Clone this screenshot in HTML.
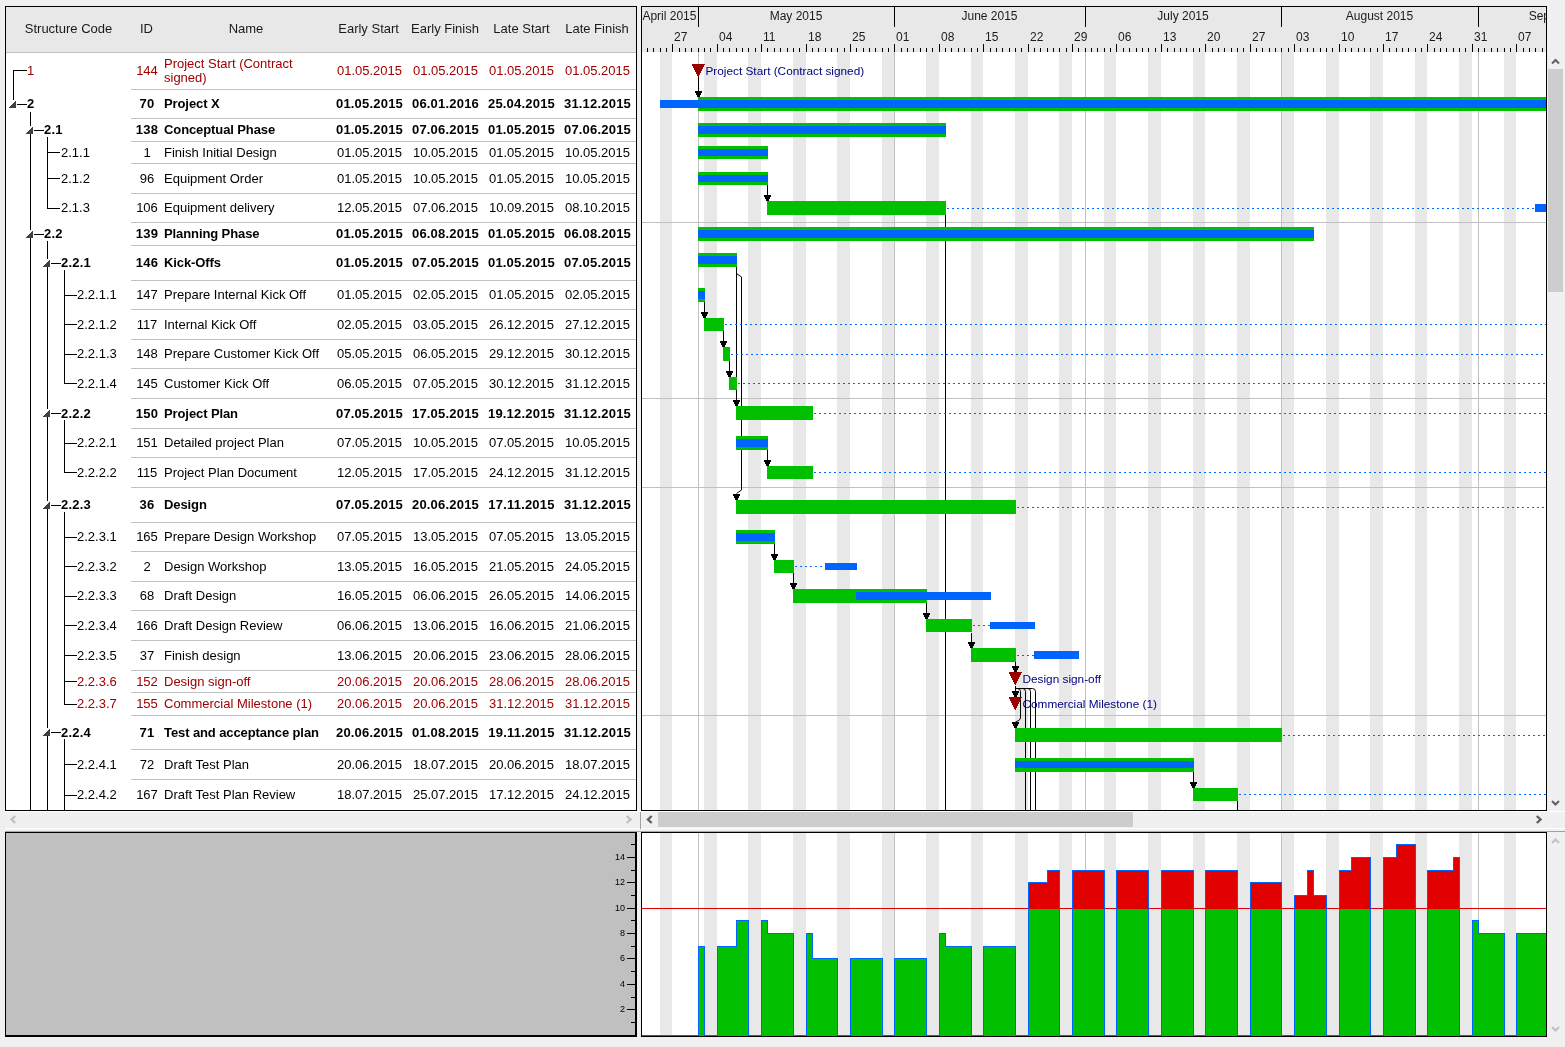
<!DOCTYPE html>
<html><head><meta charset="utf-8"><title>Gantt</title>
<style>
html,body{margin:0;padding:0;width:1565px;height:1047px;overflow:hidden;background:#f0f0f0;}
svg.root{position:absolute;left:0;top:0;display:block;will-change:transform;}
text{font-family:"Liberation Sans",sans-serif;}
</style></head><body>
<svg class="root" width="1565" height="1047" viewBox="0 0 1565 1047" shape-rendering="crispEdges">
<rect x="0" y="0" width="1565" height="1047" fill="#f0f0f0"/>
<rect x="5" y="6" width="632" height="805" fill="#000"/>
<rect x="6" y="7" width="630" height="803" fill="#fff"/>
<rect x="6" y="7" width="630" height="45" fill="#e8e8e8"/>
<rect x="6" y="52" width="630" height="1" fill="#c0c0c0"/>
<text x="68.5" y="33" font-size="13" fill="#1a1a1a" text-anchor="middle">Structure Code</text>
<text x="146.5" y="33" font-size="13" fill="#1a1a1a" text-anchor="middle">ID</text>
<text x="246" y="33" font-size="13" fill="#1a1a1a" text-anchor="middle">Name</text>
<text x="368.6" y="33" font-size="13" fill="#1a1a1a" text-anchor="middle">Early Start</text>
<text x="445" y="33" font-size="13" fill="#1a1a1a" text-anchor="middle">Early Finish</text>
<text x="521.5" y="33" font-size="13" fill="#1a1a1a" text-anchor="middle">Late Start</text>
<text x="597" y="33" font-size="13" fill="#1a1a1a" text-anchor="middle">Late Finish</text>
<rect x="131" y="89" width="505" height="1" fill="#c0c0c0"/>
<rect x="131" y="118" width="505" height="1" fill="#c0c0c0"/>
<rect x="131" y="141" width="505" height="1" fill="#c0c0c0"/>
<rect x="131" y="163" width="505" height="1" fill="#c0c0c0"/>
<rect x="131" y="193" width="505" height="1" fill="#c0c0c0"/>
<rect x="131" y="222" width="505" height="1" fill="#c0c0c0"/>
<rect x="131" y="245" width="505" height="1" fill="#c0c0c0"/>
<rect x="131" y="280" width="505" height="1" fill="#c0c0c0"/>
<rect x="131" y="309" width="505" height="1" fill="#c0c0c0"/>
<rect x="131" y="339" width="505" height="1" fill="#c0c0c0"/>
<rect x="131" y="368" width="505" height="1" fill="#c0c0c0"/>
<rect x="131" y="398" width="505" height="1" fill="#c0c0c0"/>
<rect x="131" y="428" width="505" height="1" fill="#c0c0c0"/>
<rect x="131" y="457" width="505" height="1" fill="#c0c0c0"/>
<rect x="131" y="487" width="505" height="1" fill="#c0c0c0"/>
<rect x="131" y="522" width="505" height="1" fill="#c0c0c0"/>
<rect x="131" y="551" width="505" height="1" fill="#c0c0c0"/>
<rect x="131" y="581" width="505" height="1" fill="#c0c0c0"/>
<rect x="131" y="610" width="505" height="1" fill="#c0c0c0"/>
<rect x="131" y="640" width="505" height="1" fill="#c0c0c0"/>
<rect x="131" y="670" width="505" height="1" fill="#c0c0c0"/>
<rect x="131" y="692" width="505" height="1" fill="#c0c0c0"/>
<rect x="131" y="715" width="505" height="1" fill="#c0c0c0"/>
<rect x="131" y="749" width="505" height="1" fill="#c0c0c0"/>
<rect x="131" y="779" width="505" height="1" fill="#c0c0c0"/>
<text x="27" y="75" font-size="13" fill="#a00000">1</text>
<text x="147" y="75" font-size="13" fill="#a00000" text-anchor="middle">144</text>
<text x="164" y="68" font-size="13" fill="#a00000">Project Start (Contract</text>
<text x="164" y="82" font-size="13" fill="#a00000">signed)</text>
<text x="369.5" y="75" font-size="13" fill="#a00000" text-anchor="middle">01.05.2015</text>
<text x="445.5" y="75" font-size="13" fill="#a00000" text-anchor="middle">01.05.2015</text>
<text x="521.5" y="75" font-size="13" fill="#a00000" text-anchor="middle">01.05.2015</text>
<text x="597.5" y="75" font-size="13" fill="#a00000" text-anchor="middle">01.05.2015</text>
<text x="27" y="108" font-size="13" fill="#000" font-weight="bold" letter-spacing="0.2">2</text>
<text x="147" y="108" font-size="13" fill="#000" font-weight="bold" letter-spacing="0.2" text-anchor="middle">70</text>
<text x="164" y="108" font-size="13" fill="#000" font-weight="bold" letter-spacing="-0.1">Project X</text>
<text x="369.5" y="108" font-size="13" fill="#000" font-weight="bold" letter-spacing="0.2" text-anchor="middle">01.05.2015</text>
<text x="445.5" y="108" font-size="13" fill="#000" font-weight="bold" letter-spacing="0.2" text-anchor="middle">06.01.2016</text>
<text x="521.5" y="108" font-size="13" fill="#000" font-weight="bold" letter-spacing="0.2" text-anchor="middle">25.04.2015</text>
<text x="597.5" y="108" font-size="13" fill="#000" font-weight="bold" letter-spacing="0.2" text-anchor="middle">31.12.2015</text>
<text x="44" y="134" font-size="13" fill="#000" font-weight="bold" letter-spacing="0.2">2.1</text>
<text x="147" y="134" font-size="13" fill="#000" font-weight="bold" letter-spacing="0.2" text-anchor="middle">138</text>
<text x="164" y="134" font-size="13" fill="#000" font-weight="bold" letter-spacing="-0.1">Conceptual Phase</text>
<text x="369.5" y="134" font-size="13" fill="#000" font-weight="bold" letter-spacing="0.2" text-anchor="middle">01.05.2015</text>
<text x="445.5" y="134" font-size="13" fill="#000" font-weight="bold" letter-spacing="0.2" text-anchor="middle">07.06.2015</text>
<text x="521.5" y="134" font-size="13" fill="#000" font-weight="bold" letter-spacing="0.2" text-anchor="middle">01.05.2015</text>
<text x="597.5" y="134" font-size="13" fill="#000" font-weight="bold" letter-spacing="0.2" text-anchor="middle">07.06.2015</text>
<text x="61" y="157" font-size="13" fill="#000">2.1.1</text>
<text x="147" y="157" font-size="13" fill="#000" text-anchor="middle">1</text>
<text x="164" y="157" font-size="13" fill="#000">Finish Initial Design</text>
<text x="369.5" y="157" font-size="13" fill="#000" text-anchor="middle">01.05.2015</text>
<text x="445.5" y="157" font-size="13" fill="#000" text-anchor="middle">10.05.2015</text>
<text x="521.5" y="157" font-size="13" fill="#000" text-anchor="middle">01.05.2015</text>
<text x="597.5" y="157" font-size="13" fill="#000" text-anchor="middle">10.05.2015</text>
<text x="61" y="183" font-size="13" fill="#000">2.1.2</text>
<text x="147" y="183" font-size="13" fill="#000" text-anchor="middle">96</text>
<text x="164" y="183" font-size="13" fill="#000">Equipment Order</text>
<text x="369.5" y="183" font-size="13" fill="#000" text-anchor="middle">01.05.2015</text>
<text x="445.5" y="183" font-size="13" fill="#000" text-anchor="middle">10.05.2015</text>
<text x="521.5" y="183" font-size="13" fill="#000" text-anchor="middle">01.05.2015</text>
<text x="597.5" y="183" font-size="13" fill="#000" text-anchor="middle">10.05.2015</text>
<text x="61" y="212" font-size="13" fill="#000">2.1.3</text>
<text x="147" y="212" font-size="13" fill="#000" text-anchor="middle">106</text>
<text x="164" y="212" font-size="13" fill="#000">Equipment delivery</text>
<text x="369.5" y="212" font-size="13" fill="#000" text-anchor="middle">12.05.2015</text>
<text x="445.5" y="212" font-size="13" fill="#000" text-anchor="middle">07.06.2015</text>
<text x="521.5" y="212" font-size="13" fill="#000" text-anchor="middle">10.09.2015</text>
<text x="597.5" y="212" font-size="13" fill="#000" text-anchor="middle">08.10.2015</text>
<text x="44" y="238" font-size="13" fill="#000" font-weight="bold" letter-spacing="0.2">2.2</text>
<text x="147" y="238" font-size="13" fill="#000" font-weight="bold" letter-spacing="0.2" text-anchor="middle">139</text>
<text x="164" y="238" font-size="13" fill="#000" font-weight="bold" letter-spacing="-0.1">Planning Phase</text>
<text x="369.5" y="238" font-size="13" fill="#000" font-weight="bold" letter-spacing="0.2" text-anchor="middle">01.05.2015</text>
<text x="445.5" y="238" font-size="13" fill="#000" font-weight="bold" letter-spacing="0.2" text-anchor="middle">06.08.2015</text>
<text x="521.5" y="238" font-size="13" fill="#000" font-weight="bold" letter-spacing="0.2" text-anchor="middle">01.05.2015</text>
<text x="597.5" y="238" font-size="13" fill="#000" font-weight="bold" letter-spacing="0.2" text-anchor="middle">06.08.2015</text>
<text x="61" y="267" font-size="13" fill="#000" font-weight="bold" letter-spacing="0.2">2.2.1</text>
<text x="147" y="267" font-size="13" fill="#000" font-weight="bold" letter-spacing="0.2" text-anchor="middle">146</text>
<text x="164" y="267" font-size="13" fill="#000" font-weight="bold" letter-spacing="-0.1">Kick-Offs</text>
<text x="369.5" y="267" font-size="13" fill="#000" font-weight="bold" letter-spacing="0.2" text-anchor="middle">01.05.2015</text>
<text x="445.5" y="267" font-size="13" fill="#000" font-weight="bold" letter-spacing="0.2" text-anchor="middle">07.05.2015</text>
<text x="521.5" y="267" font-size="13" fill="#000" font-weight="bold" letter-spacing="0.2" text-anchor="middle">01.05.2015</text>
<text x="597.5" y="267" font-size="13" fill="#000" font-weight="bold" letter-spacing="0.2" text-anchor="middle">07.05.2015</text>
<text x="77" y="299" font-size="13" fill="#000">2.2.1.1</text>
<text x="147" y="299" font-size="13" fill="#000" text-anchor="middle">147</text>
<text x="164" y="299" font-size="13" fill="#000">Prepare Internal Kick Off</text>
<text x="369.5" y="299" font-size="13" fill="#000" text-anchor="middle">01.05.2015</text>
<text x="445.5" y="299" font-size="13" fill="#000" text-anchor="middle">02.05.2015</text>
<text x="521.5" y="299" font-size="13" fill="#000" text-anchor="middle">01.05.2015</text>
<text x="597.5" y="299" font-size="13" fill="#000" text-anchor="middle">02.05.2015</text>
<text x="77" y="329" font-size="13" fill="#000">2.2.1.2</text>
<text x="147" y="329" font-size="13" fill="#000" text-anchor="middle">117</text>
<text x="164" y="329" font-size="13" fill="#000">Internal Kick Off</text>
<text x="369.5" y="329" font-size="13" fill="#000" text-anchor="middle">02.05.2015</text>
<text x="445.5" y="329" font-size="13" fill="#000" text-anchor="middle">03.05.2015</text>
<text x="521.5" y="329" font-size="13" fill="#000" text-anchor="middle">26.12.2015</text>
<text x="597.5" y="329" font-size="13" fill="#000" text-anchor="middle">27.12.2015</text>
<text x="77" y="358" font-size="13" fill="#000">2.2.1.3</text>
<text x="147" y="358" font-size="13" fill="#000" text-anchor="middle">148</text>
<text x="164" y="358" font-size="13" fill="#000">Prepare Customer Kick Off</text>
<text x="369.5" y="358" font-size="13" fill="#000" text-anchor="middle">05.05.2015</text>
<text x="445.5" y="358" font-size="13" fill="#000" text-anchor="middle">06.05.2015</text>
<text x="521.5" y="358" font-size="13" fill="#000" text-anchor="middle">29.12.2015</text>
<text x="597.5" y="358" font-size="13" fill="#000" text-anchor="middle">30.12.2015</text>
<text x="77" y="388" font-size="13" fill="#000">2.2.1.4</text>
<text x="147" y="388" font-size="13" fill="#000" text-anchor="middle">145</text>
<text x="164" y="388" font-size="13" fill="#000">Customer Kick Off</text>
<text x="369.5" y="388" font-size="13" fill="#000" text-anchor="middle">06.05.2015</text>
<text x="445.5" y="388" font-size="13" fill="#000" text-anchor="middle">07.05.2015</text>
<text x="521.5" y="388" font-size="13" fill="#000" text-anchor="middle">30.12.2015</text>
<text x="597.5" y="388" font-size="13" fill="#000" text-anchor="middle">31.12.2015</text>
<text x="61" y="418" font-size="13" fill="#000" font-weight="bold" letter-spacing="0.2">2.2.2</text>
<text x="147" y="418" font-size="13" fill="#000" font-weight="bold" letter-spacing="0.2" text-anchor="middle">150</text>
<text x="164" y="418" font-size="13" fill="#000" font-weight="bold" letter-spacing="-0.1">Project Plan</text>
<text x="369.5" y="418" font-size="13" fill="#000" font-weight="bold" letter-spacing="0.2" text-anchor="middle">07.05.2015</text>
<text x="445.5" y="418" font-size="13" fill="#000" font-weight="bold" letter-spacing="0.2" text-anchor="middle">17.05.2015</text>
<text x="521.5" y="418" font-size="13" fill="#000" font-weight="bold" letter-spacing="0.2" text-anchor="middle">19.12.2015</text>
<text x="597.5" y="418" font-size="13" fill="#000" font-weight="bold" letter-spacing="0.2" text-anchor="middle">31.12.2015</text>
<text x="77" y="447" font-size="13" fill="#000">2.2.2.1</text>
<text x="147" y="447" font-size="13" fill="#000" text-anchor="middle">151</text>
<text x="164" y="447" font-size="13" fill="#000">Detailed project Plan</text>
<text x="369.5" y="447" font-size="13" fill="#000" text-anchor="middle">07.05.2015</text>
<text x="445.5" y="447" font-size="13" fill="#000" text-anchor="middle">10.05.2015</text>
<text x="521.5" y="447" font-size="13" fill="#000" text-anchor="middle">07.05.2015</text>
<text x="597.5" y="447" font-size="13" fill="#000" text-anchor="middle">10.05.2015</text>
<text x="77" y="477" font-size="13" fill="#000">2.2.2.2</text>
<text x="147" y="477" font-size="13" fill="#000" text-anchor="middle">115</text>
<text x="164" y="477" font-size="13" fill="#000">Project Plan Document</text>
<text x="369.5" y="477" font-size="13" fill="#000" text-anchor="middle">12.05.2015</text>
<text x="445.5" y="477" font-size="13" fill="#000" text-anchor="middle">17.05.2015</text>
<text x="521.5" y="477" font-size="13" fill="#000" text-anchor="middle">24.12.2015</text>
<text x="597.5" y="477" font-size="13" fill="#000" text-anchor="middle">31.12.2015</text>
<text x="61" y="509" font-size="13" fill="#000" font-weight="bold" letter-spacing="0.2">2.2.3</text>
<text x="147" y="509" font-size="13" fill="#000" font-weight="bold" letter-spacing="0.2" text-anchor="middle">36</text>
<text x="164" y="509" font-size="13" fill="#000" font-weight="bold" letter-spacing="-0.1">Design</text>
<text x="369.5" y="509" font-size="13" fill="#000" font-weight="bold" letter-spacing="0.2" text-anchor="middle">07.05.2015</text>
<text x="445.5" y="509" font-size="13" fill="#000" font-weight="bold" letter-spacing="0.2" text-anchor="middle">20.06.2015</text>
<text x="521.5" y="509" font-size="13" fill="#000" font-weight="bold" letter-spacing="0.2" text-anchor="middle">17.11.2015</text>
<text x="597.5" y="509" font-size="13" fill="#000" font-weight="bold" letter-spacing="0.2" text-anchor="middle">31.12.2015</text>
<text x="77" y="541" font-size="13" fill="#000">2.2.3.1</text>
<text x="147" y="541" font-size="13" fill="#000" text-anchor="middle">165</text>
<text x="164" y="541" font-size="13" fill="#000">Prepare Design Workshop</text>
<text x="369.5" y="541" font-size="13" fill="#000" text-anchor="middle">07.05.2015</text>
<text x="445.5" y="541" font-size="13" fill="#000" text-anchor="middle">13.05.2015</text>
<text x="521.5" y="541" font-size="13" fill="#000" text-anchor="middle">07.05.2015</text>
<text x="597.5" y="541" font-size="13" fill="#000" text-anchor="middle">13.05.2015</text>
<text x="77" y="571" font-size="13" fill="#000">2.2.3.2</text>
<text x="147" y="571" font-size="13" fill="#000" text-anchor="middle">2</text>
<text x="164" y="571" font-size="13" fill="#000">Design Workshop</text>
<text x="369.5" y="571" font-size="13" fill="#000" text-anchor="middle">13.05.2015</text>
<text x="445.5" y="571" font-size="13" fill="#000" text-anchor="middle">16.05.2015</text>
<text x="521.5" y="571" font-size="13" fill="#000" text-anchor="middle">21.05.2015</text>
<text x="597.5" y="571" font-size="13" fill="#000" text-anchor="middle">24.05.2015</text>
<text x="77" y="600" font-size="13" fill="#000">2.2.3.3</text>
<text x="147" y="600" font-size="13" fill="#000" text-anchor="middle">68</text>
<text x="164" y="600" font-size="13" fill="#000">Draft Design</text>
<text x="369.5" y="600" font-size="13" fill="#000" text-anchor="middle">16.05.2015</text>
<text x="445.5" y="600" font-size="13" fill="#000" text-anchor="middle">06.06.2015</text>
<text x="521.5" y="600" font-size="13" fill="#000" text-anchor="middle">26.05.2015</text>
<text x="597.5" y="600" font-size="13" fill="#000" text-anchor="middle">14.06.2015</text>
<text x="77" y="630" font-size="13" fill="#000">2.2.3.4</text>
<text x="147" y="630" font-size="13" fill="#000" text-anchor="middle">166</text>
<text x="164" y="630" font-size="13" fill="#000">Draft Design Review</text>
<text x="369.5" y="630" font-size="13" fill="#000" text-anchor="middle">06.06.2015</text>
<text x="445.5" y="630" font-size="13" fill="#000" text-anchor="middle">13.06.2015</text>
<text x="521.5" y="630" font-size="13" fill="#000" text-anchor="middle">16.06.2015</text>
<text x="597.5" y="630" font-size="13" fill="#000" text-anchor="middle">21.06.2015</text>
<text x="77" y="660" font-size="13" fill="#000">2.2.3.5</text>
<text x="147" y="660" font-size="13" fill="#000" text-anchor="middle">37</text>
<text x="164" y="660" font-size="13" fill="#000">Finish design</text>
<text x="369.5" y="660" font-size="13" fill="#000" text-anchor="middle">13.06.2015</text>
<text x="445.5" y="660" font-size="13" fill="#000" text-anchor="middle">20.06.2015</text>
<text x="521.5" y="660" font-size="13" fill="#000" text-anchor="middle">23.06.2015</text>
<text x="597.5" y="660" font-size="13" fill="#000" text-anchor="middle">28.06.2015</text>
<text x="77" y="686" font-size="13" fill="#a00000">2.2.3.6</text>
<text x="147" y="686" font-size="13" fill="#a00000" text-anchor="middle">152</text>
<text x="164" y="686" font-size="13" fill="#a00000">Design sign-off</text>
<text x="369.5" y="686" font-size="13" fill="#a00000" text-anchor="middle">20.06.2015</text>
<text x="445.5" y="686" font-size="13" fill="#a00000" text-anchor="middle">20.06.2015</text>
<text x="521.5" y="686" font-size="13" fill="#a00000" text-anchor="middle">28.06.2015</text>
<text x="597.5" y="686" font-size="13" fill="#a00000" text-anchor="middle">28.06.2015</text>
<text x="77" y="708" font-size="13" fill="#a00000">2.2.3.7</text>
<text x="147" y="708" font-size="13" fill="#a00000" text-anchor="middle">155</text>
<text x="164" y="708" font-size="13" fill="#a00000">Commercial Milestone (1)</text>
<text x="369.5" y="708" font-size="13" fill="#a00000" text-anchor="middle">20.06.2015</text>
<text x="445.5" y="708" font-size="13" fill="#a00000" text-anchor="middle">20.06.2015</text>
<text x="521.5" y="708" font-size="13" fill="#a00000" text-anchor="middle">31.12.2015</text>
<text x="597.5" y="708" font-size="13" fill="#a00000" text-anchor="middle">31.12.2015</text>
<text x="61" y="737" font-size="13" fill="#000" font-weight="bold" letter-spacing="0.2">2.2.4</text>
<text x="147" y="737" font-size="13" fill="#000" font-weight="bold" letter-spacing="0.2" text-anchor="middle">71</text>
<text x="164" y="737" font-size="13" fill="#000" font-weight="bold" letter-spacing="-0.1">Test and acceptance plan</text>
<text x="369.5" y="737" font-size="13" fill="#000" font-weight="bold" letter-spacing="0.2" text-anchor="middle">20.06.2015</text>
<text x="445.5" y="737" font-size="13" fill="#000" font-weight="bold" letter-spacing="0.2" text-anchor="middle">01.08.2015</text>
<text x="521.5" y="737" font-size="13" fill="#000" font-weight="bold" letter-spacing="0.2" text-anchor="middle">19.11.2015</text>
<text x="597.5" y="737" font-size="13" fill="#000" font-weight="bold" letter-spacing="0.2" text-anchor="middle">31.12.2015</text>
<text x="77" y="769" font-size="13" fill="#000">2.2.4.1</text>
<text x="147" y="769" font-size="13" fill="#000" text-anchor="middle">72</text>
<text x="164" y="769" font-size="13" fill="#000">Draft Test Plan</text>
<text x="369.5" y="769" font-size="13" fill="#000" text-anchor="middle">20.06.2015</text>
<text x="445.5" y="769" font-size="13" fill="#000" text-anchor="middle">18.07.2015</text>
<text x="521.5" y="769" font-size="13" fill="#000" text-anchor="middle">20.06.2015</text>
<text x="597.5" y="769" font-size="13" fill="#000" text-anchor="middle">18.07.2015</text>
<text x="77" y="799" font-size="13" fill="#000">2.2.4.2</text>
<text x="147" y="799" font-size="13" fill="#000" text-anchor="middle">167</text>
<text x="164" y="799" font-size="13" fill="#000">Draft Test Plan Review</text>
<text x="369.5" y="799" font-size="13" fill="#000" text-anchor="middle">18.07.2015</text>
<text x="445.5" y="799" font-size="13" fill="#000" text-anchor="middle">25.07.2015</text>
<text x="521.5" y="799" font-size="13" fill="#000" text-anchor="middle">17.12.2015</text>
<text x="597.5" y="799" font-size="13" fill="#000" text-anchor="middle">24.12.2015</text>
<rect x="13" y="70" width="1" height="31" fill="#000"/>
<rect x="13" y="70" width="14" height="1" fill="#000"/>
<rect x="13" y="100" width="1" height="8" fill="#fff"/>
<polygon points="8.5,108 16,100.5 16,108" fill="#404040"/>
<rect x="17" y="104" width="10" height="1" fill="#000"/>
<rect x="30" y="112" width="1" height="698" fill="#000"/>
<rect x="30" y="126" width="1" height="8" fill="#fff"/>
<polygon points="25.5,134 33,126.5 33,134" fill="#404040"/>
<rect x="34" y="130" width="10" height="1" fill="#000"/>
<rect x="30" y="230" width="1" height="8" fill="#fff"/>
<polygon points="25.5,238 33,230.5 33,238" fill="#404040"/>
<rect x="34" y="234" width="10" height="1" fill="#000"/>
<rect x="47" y="137" width="1" height="72" fill="#000"/>
<rect x="47" y="152" width="13" height="1" fill="#000"/>
<rect x="47" y="178" width="13" height="1" fill="#000"/>
<rect x="47" y="208" width="13" height="1" fill="#000"/>
<rect x="47" y="241" width="1" height="569" fill="#000"/>
<rect x="47" y="259" width="1" height="8" fill="#fff"/>
<polygon points="42.5,267 50,259.5 50,267" fill="#404040"/>
<rect x="51" y="263" width="10" height="1" fill="#000"/>
<rect x="47" y="409" width="1" height="8" fill="#fff"/>
<polygon points="42.5,417 50,409.5 50,417" fill="#404040"/>
<rect x="51" y="413" width="10" height="1" fill="#000"/>
<rect x="47" y="501" width="1" height="8" fill="#fff"/>
<polygon points="42.5,509 50,501.5 50,509" fill="#404040"/>
<rect x="51" y="505" width="10" height="1" fill="#000"/>
<rect x="47" y="728" width="1" height="8" fill="#fff"/>
<polygon points="42.5,736 50,728.5 50,736" fill="#404040"/>
<rect x="51" y="732" width="10" height="1" fill="#000"/>
<rect x="64" y="270" width="1" height="114" fill="#000"/>
<rect x="64" y="295" width="13" height="1" fill="#000"/>
<rect x="64" y="324" width="13" height="1" fill="#000"/>
<rect x="64" y="354" width="13" height="1" fill="#000"/>
<rect x="64" y="383" width="13" height="1" fill="#000"/>
<rect x="64" y="420" width="1" height="53" fill="#000"/>
<rect x="64" y="443" width="13" height="1" fill="#000"/>
<rect x="64" y="472" width="13" height="1" fill="#000"/>
<rect x="64" y="512" width="1" height="193" fill="#000"/>
<rect x="64" y="537" width="13" height="1" fill="#000"/>
<rect x="64" y="566" width="13" height="1" fill="#000"/>
<rect x="64" y="596" width="13" height="1" fill="#000"/>
<rect x="64" y="625" width="13" height="1" fill="#000"/>
<rect x="64" y="655" width="13" height="1" fill="#000"/>
<rect x="64" y="681" width="13" height="1" fill="#000"/>
<rect x="64" y="704" width="13" height="1" fill="#000"/>
<rect x="64" y="739" width="1" height="71" fill="#000"/>
<rect x="64" y="764" width="13" height="1" fill="#000"/>
<rect x="64" y="795" width="13" height="1" fill="#000"/>
<rect x="641" y="6" width="906" height="805" fill="#000"/>
<rect x="642" y="7" width="904" height="803" fill="#fff"/>
<rect x="642" y="7" width="904" height="45" fill="#e8e8e8"/>
<svg x="642" y="7" width="904" height="803" overflow="hidden">
<g transform="translate(-642,-7)">
<rect x="615" y="52" width="13" height="758" fill="#e8e8e8"/>
<rect x="660" y="52" width="12" height="758" fill="#e8e8e8"/>
<rect x="704" y="52" width="13" height="758" fill="#e8e8e8"/>
<rect x="748" y="52" width="13" height="758" fill="#e8e8e8"/>
<rect x="793" y="52" width="13" height="758" fill="#e8e8e8"/>
<rect x="837" y="52" width="13" height="758" fill="#e8e8e8"/>
<rect x="882" y="52" width="12" height="758" fill="#e8e8e8"/>
<rect x="926" y="52" width="13" height="758" fill="#e8e8e8"/>
<rect x="971" y="52" width="12" height="758" fill="#e8e8e8"/>
<rect x="1015" y="52" width="13" height="758" fill="#e8e8e8"/>
<rect x="1059" y="52" width="13" height="758" fill="#e8e8e8"/>
<rect x="1104" y="52" width="12" height="758" fill="#e8e8e8"/>
<rect x="1148" y="52" width="13" height="758" fill="#e8e8e8"/>
<rect x="1193" y="52" width="12" height="758" fill="#e8e8e8"/>
<rect x="1237" y="52" width="13" height="758" fill="#e8e8e8"/>
<rect x="1281" y="52" width="13" height="758" fill="#e8e8e8"/>
<rect x="1326" y="52" width="13" height="758" fill="#e8e8e8"/>
<rect x="1370" y="52" width="13" height="758" fill="#e8e8e8"/>
<rect x="1415" y="52" width="12" height="758" fill="#e8e8e8"/>
<rect x="1459" y="52" width="13" height="758" fill="#e8e8e8"/>
<rect x="1504" y="52" width="12" height="758" fill="#e8e8e8"/>
<rect x="1548" y="52" width="13" height="758" fill="#e8e8e8"/>
<rect x="698" y="52" width="1" height="758" fill="#c0c0c0"/>
<rect x="698" y="7" width="1" height="20" fill="#000"/>
<rect x="894" y="52" width="1" height="758" fill="#c0c0c0"/>
<rect x="894" y="7" width="1" height="20" fill="#000"/>
<rect x="1085" y="52" width="1" height="758" fill="#c0c0c0"/>
<rect x="1085" y="7" width="1" height="20" fill="#000"/>
<rect x="1281" y="52" width="1" height="758" fill="#c0c0c0"/>
<rect x="1281" y="7" width="1" height="20" fill="#000"/>
<rect x="1478" y="52" width="1" height="758" fill="#c0c0c0"/>
<rect x="1478" y="7" width="1" height="20" fill="#000"/>
<text x="642.4" y="20" font-size="12" fill="#1a1a1a">April 2015</text>
<text x="796.0" y="20" font-size="12" fill="#1a1a1a" text-anchor="middle">May 2015</text>
<text x="989.5" y="20" font-size="12" fill="#1a1a1a" text-anchor="middle">June 2015</text>
<text x="1183.0" y="20" font-size="12" fill="#1a1a1a" text-anchor="middle">July 2015</text>
<text x="1379.5" y="20" font-size="12" fill="#1a1a1a" text-anchor="middle">August 2015</text>
<text x="1573.0" y="20" font-size="12" fill="#1a1a1a" text-anchor="middle">September 2015</text>
<rect x="641" y="48" width="1" height="4" fill="#000"/>
<rect x="647" y="48" width="1" height="4" fill="#000"/>
<rect x="653" y="48" width="1" height="4" fill="#000"/>
<rect x="660" y="48" width="1" height="4" fill="#000"/>
<rect x="666" y="48" width="1" height="4" fill="#000"/>
<rect x="672" y="44" width="1" height="8" fill="#000"/>
<rect x="679" y="48" width="1" height="4" fill="#000"/>
<rect x="685" y="48" width="1" height="4" fill="#000"/>
<rect x="691" y="48" width="1" height="4" fill="#000"/>
<rect x="698" y="48" width="1" height="4" fill="#000"/>
<rect x="704" y="48" width="1" height="4" fill="#000"/>
<rect x="710" y="48" width="1" height="4" fill="#000"/>
<rect x="717" y="44" width="1" height="8" fill="#000"/>
<rect x="723" y="48" width="1" height="4" fill="#000"/>
<rect x="729" y="48" width="1" height="4" fill="#000"/>
<rect x="736" y="48" width="1" height="4" fill="#000"/>
<rect x="742" y="48" width="1" height="4" fill="#000"/>
<rect x="748" y="48" width="1" height="4" fill="#000"/>
<rect x="755" y="48" width="1" height="4" fill="#000"/>
<rect x="761" y="44" width="1" height="8" fill="#000"/>
<rect x="767" y="48" width="1" height="4" fill="#000"/>
<rect x="774" y="48" width="1" height="4" fill="#000"/>
<rect x="780" y="48" width="1" height="4" fill="#000"/>
<rect x="787" y="48" width="1" height="4" fill="#000"/>
<rect x="793" y="48" width="1" height="4" fill="#000"/>
<rect x="799" y="48" width="1" height="4" fill="#000"/>
<rect x="806" y="44" width="1" height="8" fill="#000"/>
<rect x="812" y="48" width="1" height="4" fill="#000"/>
<rect x="818" y="48" width="1" height="4" fill="#000"/>
<rect x="825" y="48" width="1" height="4" fill="#000"/>
<rect x="831" y="48" width="1" height="4" fill="#000"/>
<rect x="837" y="48" width="1" height="4" fill="#000"/>
<rect x="844" y="48" width="1" height="4" fill="#000"/>
<rect x="850" y="44" width="1" height="8" fill="#000"/>
<rect x="856" y="48" width="1" height="4" fill="#000"/>
<rect x="863" y="48" width="1" height="4" fill="#000"/>
<rect x="869" y="48" width="1" height="4" fill="#000"/>
<rect x="875" y="48" width="1" height="4" fill="#000"/>
<rect x="882" y="48" width="1" height="4" fill="#000"/>
<rect x="888" y="48" width="1" height="4" fill="#000"/>
<rect x="894" y="44" width="1" height="8" fill="#000"/>
<rect x="901" y="48" width="1" height="4" fill="#000"/>
<rect x="907" y="48" width="1" height="4" fill="#000"/>
<rect x="913" y="48" width="1" height="4" fill="#000"/>
<rect x="920" y="48" width="1" height="4" fill="#000"/>
<rect x="926" y="48" width="1" height="4" fill="#000"/>
<rect x="932" y="48" width="1" height="4" fill="#000"/>
<rect x="939" y="44" width="1" height="8" fill="#000"/>
<rect x="945" y="48" width="1" height="4" fill="#000"/>
<rect x="951" y="48" width="1" height="4" fill="#000"/>
<rect x="958" y="48" width="1" height="4" fill="#000"/>
<rect x="964" y="48" width="1" height="4" fill="#000"/>
<rect x="971" y="48" width="1" height="4" fill="#000"/>
<rect x="977" y="48" width="1" height="4" fill="#000"/>
<rect x="983" y="44" width="1" height="8" fill="#000"/>
<rect x="990" y="48" width="1" height="4" fill="#000"/>
<rect x="996" y="48" width="1" height="4" fill="#000"/>
<rect x="1002" y="48" width="1" height="4" fill="#000"/>
<rect x="1009" y="48" width="1" height="4" fill="#000"/>
<rect x="1015" y="48" width="1" height="4" fill="#000"/>
<rect x="1021" y="48" width="1" height="4" fill="#000"/>
<rect x="1028" y="44" width="1" height="8" fill="#000"/>
<rect x="1034" y="48" width="1" height="4" fill="#000"/>
<rect x="1040" y="48" width="1" height="4" fill="#000"/>
<rect x="1047" y="48" width="1" height="4" fill="#000"/>
<rect x="1053" y="48" width="1" height="4" fill="#000"/>
<rect x="1059" y="48" width="1" height="4" fill="#000"/>
<rect x="1066" y="48" width="1" height="4" fill="#000"/>
<rect x="1072" y="44" width="1" height="8" fill="#000"/>
<rect x="1078" y="48" width="1" height="4" fill="#000"/>
<rect x="1085" y="48" width="1" height="4" fill="#000"/>
<rect x="1091" y="48" width="1" height="4" fill="#000"/>
<rect x="1097" y="48" width="1" height="4" fill="#000"/>
<rect x="1104" y="48" width="1" height="4" fill="#000"/>
<rect x="1110" y="48" width="1" height="4" fill="#000"/>
<rect x="1116" y="44" width="1" height="8" fill="#000"/>
<rect x="1123" y="48" width="1" height="4" fill="#000"/>
<rect x="1129" y="48" width="1" height="4" fill="#000"/>
<rect x="1136" y="48" width="1" height="4" fill="#000"/>
<rect x="1142" y="48" width="1" height="4" fill="#000"/>
<rect x="1148" y="48" width="1" height="4" fill="#000"/>
<rect x="1155" y="48" width="1" height="4" fill="#000"/>
<rect x="1161" y="44" width="1" height="8" fill="#000"/>
<rect x="1167" y="48" width="1" height="4" fill="#000"/>
<rect x="1174" y="48" width="1" height="4" fill="#000"/>
<rect x="1180" y="48" width="1" height="4" fill="#000"/>
<rect x="1186" y="48" width="1" height="4" fill="#000"/>
<rect x="1193" y="48" width="1" height="4" fill="#000"/>
<rect x="1199" y="48" width="1" height="4" fill="#000"/>
<rect x="1205" y="44" width="1" height="8" fill="#000"/>
<rect x="1212" y="48" width="1" height="4" fill="#000"/>
<rect x="1218" y="48" width="1" height="4" fill="#000"/>
<rect x="1224" y="48" width="1" height="4" fill="#000"/>
<rect x="1231" y="48" width="1" height="4" fill="#000"/>
<rect x="1237" y="48" width="1" height="4" fill="#000"/>
<rect x="1243" y="48" width="1" height="4" fill="#000"/>
<rect x="1250" y="44" width="1" height="8" fill="#000"/>
<rect x="1256" y="48" width="1" height="4" fill="#000"/>
<rect x="1262" y="48" width="1" height="4" fill="#000"/>
<rect x="1269" y="48" width="1" height="4" fill="#000"/>
<rect x="1275" y="48" width="1" height="4" fill="#000"/>
<rect x="1281" y="48" width="1" height="4" fill="#000"/>
<rect x="1288" y="48" width="1" height="4" fill="#000"/>
<rect x="1294" y="44" width="1" height="8" fill="#000"/>
<rect x="1300" y="48" width="1" height="4" fill="#000"/>
<rect x="1307" y="48" width="1" height="4" fill="#000"/>
<rect x="1313" y="48" width="1" height="4" fill="#000"/>
<rect x="1320" y="48" width="1" height="4" fill="#000"/>
<rect x="1326" y="48" width="1" height="4" fill="#000"/>
<rect x="1332" y="48" width="1" height="4" fill="#000"/>
<rect x="1339" y="44" width="1" height="8" fill="#000"/>
<rect x="1345" y="48" width="1" height="4" fill="#000"/>
<rect x="1351" y="48" width="1" height="4" fill="#000"/>
<rect x="1358" y="48" width="1" height="4" fill="#000"/>
<rect x="1364" y="48" width="1" height="4" fill="#000"/>
<rect x="1370" y="48" width="1" height="4" fill="#000"/>
<rect x="1377" y="48" width="1" height="4" fill="#000"/>
<rect x="1383" y="44" width="1" height="8" fill="#000"/>
<rect x="1389" y="48" width="1" height="4" fill="#000"/>
<rect x="1396" y="48" width="1" height="4" fill="#000"/>
<rect x="1402" y="48" width="1" height="4" fill="#000"/>
<rect x="1408" y="48" width="1" height="4" fill="#000"/>
<rect x="1415" y="48" width="1" height="4" fill="#000"/>
<rect x="1421" y="48" width="1" height="4" fill="#000"/>
<rect x="1427" y="44" width="1" height="8" fill="#000"/>
<rect x="1434" y="48" width="1" height="4" fill="#000"/>
<rect x="1440" y="48" width="1" height="4" fill="#000"/>
<rect x="1446" y="48" width="1" height="4" fill="#000"/>
<rect x="1453" y="48" width="1" height="4" fill="#000"/>
<rect x="1459" y="48" width="1" height="4" fill="#000"/>
<rect x="1465" y="48" width="1" height="4" fill="#000"/>
<rect x="1472" y="44" width="1" height="8" fill="#000"/>
<rect x="1478" y="48" width="1" height="4" fill="#000"/>
<rect x="1484" y="48" width="1" height="4" fill="#000"/>
<rect x="1491" y="48" width="1" height="4" fill="#000"/>
<rect x="1497" y="48" width="1" height="4" fill="#000"/>
<rect x="1504" y="48" width="1" height="4" fill="#000"/>
<rect x="1510" y="48" width="1" height="4" fill="#000"/>
<rect x="1516" y="44" width="1" height="8" fill="#000"/>
<rect x="1523" y="48" width="1" height="4" fill="#000"/>
<rect x="1529" y="48" width="1" height="4" fill="#000"/>
<rect x="1535" y="48" width="1" height="4" fill="#000"/>
<rect x="1542" y="48" width="1" height="4" fill="#000"/>
<rect x="1548" y="48" width="1" height="4" fill="#000"/>
<text x="674" y="41" font-size="12" fill="#1a1a1a">27</text>
<text x="719" y="41" font-size="12" fill="#1a1a1a">04</text>
<text x="763" y="41" font-size="12" fill="#1a1a1a">11</text>
<text x="808" y="41" font-size="12" fill="#1a1a1a">18</text>
<text x="852" y="41" font-size="12" fill="#1a1a1a">25</text>
<text x="896" y="41" font-size="12" fill="#1a1a1a">01</text>
<text x="941" y="41" font-size="12" fill="#1a1a1a">08</text>
<text x="985" y="41" font-size="12" fill="#1a1a1a">15</text>
<text x="1030" y="41" font-size="12" fill="#1a1a1a">22</text>
<text x="1074" y="41" font-size="12" fill="#1a1a1a">29</text>
<text x="1118" y="41" font-size="12" fill="#1a1a1a">06</text>
<text x="1163" y="41" font-size="12" fill="#1a1a1a">13</text>
<text x="1207" y="41" font-size="12" fill="#1a1a1a">20</text>
<text x="1252" y="41" font-size="12" fill="#1a1a1a">27</text>
<text x="1296" y="41" font-size="12" fill="#1a1a1a">03</text>
<text x="1341" y="41" font-size="12" fill="#1a1a1a">10</text>
<text x="1385" y="41" font-size="12" fill="#1a1a1a">17</text>
<text x="1429" y="41" font-size="12" fill="#1a1a1a">24</text>
<text x="1474" y="41" font-size="12" fill="#1a1a1a">31</text>
<text x="1518" y="41" font-size="12" fill="#1a1a1a">07</text>
<rect x="642" y="222" width="904" height="1" fill="#c0c0c0"/>
<rect x="642" y="398" width="904" height="1" fill="#c0c0c0"/>
<rect x="642" y="487" width="904" height="1" fill="#c0c0c0"/>
<rect x="642" y="715" width="904" height="1" fill="#c0c0c0"/>
<rect x="945" y="215" width="1" height="595" fill="#000"/>
<path d="M736.5,273.5 L741.5,277 L741.5,490 L736.5,493.5" fill="none" stroke="#000" stroke-width="1" shape-rendering="auto"/>
<rect x="736" y="267" width="1" height="134" fill="#000"/>
<rect x="698" y="77" width="1" height="20" fill="#000"/>
<rect x="695" y="91" width="7" height="2" fill="#000"/>
<rect x="696" y="93" width="5" height="2" fill="#000"/>
<rect x="697" y="95" width="3" height="2" fill="#000"/>
<rect x="767" y="185" width="1" height="16" fill="#000"/>
<rect x="764" y="195" width="7" height="2" fill="#000"/>
<rect x="765" y="197" width="5" height="2" fill="#000"/>
<rect x="766" y="199" width="3" height="2" fill="#000"/>
<rect x="704" y="302" width="1" height="16" fill="#000"/>
<rect x="701" y="312" width="7" height="2" fill="#000"/>
<rect x="702" y="314" width="5" height="2" fill="#000"/>
<rect x="703" y="316" width="3" height="2" fill="#000"/>
<rect x="723" y="331" width="1" height="16" fill="#000"/>
<rect x="720" y="341" width="7" height="2" fill="#000"/>
<rect x="721" y="343" width="5" height="2" fill="#000"/>
<rect x="722" y="345" width="3" height="2" fill="#000"/>
<rect x="729" y="361" width="1" height="16" fill="#000"/>
<rect x="726" y="371" width="7" height="2" fill="#000"/>
<rect x="727" y="373" width="5" height="2" fill="#000"/>
<rect x="728" y="375" width="3" height="2" fill="#000"/>
<rect x="736" y="400" width="1" height="6" fill="#000"/>
<rect x="733" y="400" width="7" height="2" fill="#000"/>
<rect x="734" y="402" width="5" height="2" fill="#000"/>
<rect x="735" y="404" width="3" height="2" fill="#000"/>
<rect x="736" y="494" width="1" height="6" fill="#000"/>
<rect x="733" y="494" width="7" height="2" fill="#000"/>
<rect x="734" y="496" width="5" height="2" fill="#000"/>
<rect x="735" y="498" width="3" height="2" fill="#000"/>
<rect x="767" y="450" width="1" height="16" fill="#000"/>
<rect x="764" y="460" width="7" height="2" fill="#000"/>
<rect x="765" y="462" width="5" height="2" fill="#000"/>
<rect x="766" y="464" width="3" height="2" fill="#000"/>
<rect x="774" y="544" width="1" height="16" fill="#000"/>
<rect x="771" y="554" width="7" height="2" fill="#000"/>
<rect x="772" y="556" width="5" height="2" fill="#000"/>
<rect x="773" y="558" width="3" height="2" fill="#000"/>
<rect x="793" y="573" width="1" height="16" fill="#000"/>
<rect x="790" y="583" width="7" height="2" fill="#000"/>
<rect x="791" y="585" width="5" height="2" fill="#000"/>
<rect x="792" y="587" width="3" height="2" fill="#000"/>
<rect x="926" y="603" width="1" height="16" fill="#000"/>
<rect x="923" y="613" width="7" height="2" fill="#000"/>
<rect x="924" y="615" width="5" height="2" fill="#000"/>
<rect x="925" y="617" width="3" height="2" fill="#000"/>
<rect x="971" y="633" width="1" height="15" fill="#000"/>
<rect x="968" y="642" width="7" height="2" fill="#000"/>
<rect x="969" y="644" width="5" height="2" fill="#000"/>
<rect x="970" y="646" width="3" height="2" fill="#000"/>
<rect x="1015" y="662" width="1" height="10" fill="#000"/>
<rect x="1012" y="666" width="7" height="2" fill="#000"/>
<rect x="1013" y="668" width="5" height="2" fill="#000"/>
<rect x="1014" y="670" width="3" height="2" fill="#000"/>
<rect x="1015" y="686" width="1" height="11" fill="#000"/>
<rect x="1012" y="691" width="7" height="2" fill="#000"/>
<rect x="1013" y="693" width="5" height="2" fill="#000"/>
<rect x="1014" y="695" width="3" height="2" fill="#000"/>
<path d="M1015.5,688.5 L1017.5,688.5 Q1020.5,688.5 1020.5,691.5 L1020.5,718 Q1020.5,720.5 1015.5,722" fill="none" stroke="#000" stroke-width="1" shape-rendering="auto"/>
<path d="M1015.5,688.5 L1022.5,688.5 Q1025.5,688.5 1025.5,691.5 L1025.5,810" fill="none" stroke="#000" stroke-width="1" shape-rendering="auto"/>
<path d="M1015.5,688.5 L1027.5,688.5 Q1030.5,688.5 1030.5,691.5 L1030.5,810" fill="none" stroke="#000" stroke-width="1" shape-rendering="auto"/>
<path d="M1015.5,688.5 L1032.5,688.5 Q1035.5,688.5 1035.5,691.5 L1035.5,810" fill="none" stroke="#000" stroke-width="1" shape-rendering="auto"/>
<rect x="1015" y="722" width="1" height="6" fill="#000"/>
<rect x="1012" y="722" width="7" height="2" fill="#000"/>
<rect x="1013" y="724" width="5" height="2" fill="#000"/>
<rect x="1014" y="726" width="3" height="2" fill="#000"/>
<rect x="1193" y="772" width="1" height="16" fill="#000"/>
<rect x="1190" y="782" width="7" height="2" fill="#000"/>
<rect x="1191" y="784" width="5" height="2" fill="#000"/>
<rect x="1192" y="786" width="3" height="2" fill="#000"/>
<rect x="1237" y="801" width="1" height="9" fill="#000"/>
<rect x="698" y="97" width="848" height="14" fill="#00c000"/>
<rect x="660" y="100" width="886" height="8" fill="#0064ff"/>
<rect x="698" y="123" width="248" height="14" fill="#00c000"/>
<rect x="698" y="126" width="248" height="8" fill="#0064ff"/>
<rect x="698" y="146" width="70" height="13" fill="#00c000"/>
<rect x="698" y="149" width="70" height="7" fill="#0064ff"/>
<rect x="698" y="172" width="70" height="13" fill="#00c000"/>
<rect x="698" y="175" width="70" height="7" fill="#0064ff"/>
<rect x="947" y="208" width="2" height="1" fill="#0064ff"/>
<rect x="952" y="208" width="2" height="1" fill="#0064ff"/>
<rect x="957" y="208" width="2" height="1" fill="#0064ff"/>
<rect x="962" y="208" width="2" height="1" fill="#0064ff"/>
<rect x="967" y="208" width="2" height="1" fill="#0064ff"/>
<rect x="972" y="208" width="2" height="1" fill="#0064ff"/>
<rect x="977" y="208" width="2" height="1" fill="#0064ff"/>
<rect x="982" y="208" width="2" height="1" fill="#0064ff"/>
<rect x="987" y="208" width="2" height="1" fill="#0064ff"/>
<rect x="992" y="208" width="2" height="1" fill="#0064ff"/>
<rect x="997" y="208" width="2" height="1" fill="#0064ff"/>
<rect x="1002" y="208" width="2" height="1" fill="#0064ff"/>
<rect x="1007" y="208" width="2" height="1" fill="#0064ff"/>
<rect x="1012" y="208" width="2" height="1" fill="#0064ff"/>
<rect x="1017" y="208" width="2" height="1" fill="#0064ff"/>
<rect x="1022" y="208" width="2" height="1" fill="#0064ff"/>
<rect x="1027" y="208" width="2" height="1" fill="#0064ff"/>
<rect x="1032" y="208" width="2" height="1" fill="#0064ff"/>
<rect x="1037" y="208" width="2" height="1" fill="#0064ff"/>
<rect x="1042" y="208" width="2" height="1" fill="#0064ff"/>
<rect x="1047" y="208" width="2" height="1" fill="#0064ff"/>
<rect x="1052" y="208" width="2" height="1" fill="#0064ff"/>
<rect x="1057" y="208" width="2" height="1" fill="#0064ff"/>
<rect x="1062" y="208" width="2" height="1" fill="#0064ff"/>
<rect x="1067" y="208" width="2" height="1" fill="#0064ff"/>
<rect x="1072" y="208" width="2" height="1" fill="#0064ff"/>
<rect x="1077" y="208" width="2" height="1" fill="#0064ff"/>
<rect x="1082" y="208" width="2" height="1" fill="#0064ff"/>
<rect x="1087" y="208" width="2" height="1" fill="#0064ff"/>
<rect x="1092" y="208" width="2" height="1" fill="#0064ff"/>
<rect x="1097" y="208" width="2" height="1" fill="#0064ff"/>
<rect x="1102" y="208" width="2" height="1" fill="#0064ff"/>
<rect x="1107" y="208" width="2" height="1" fill="#0064ff"/>
<rect x="1112" y="208" width="2" height="1" fill="#0064ff"/>
<rect x="1117" y="208" width="2" height="1" fill="#0064ff"/>
<rect x="1122" y="208" width="2" height="1" fill="#0064ff"/>
<rect x="1127" y="208" width="2" height="1" fill="#0064ff"/>
<rect x="1132" y="208" width="2" height="1" fill="#0064ff"/>
<rect x="1137" y="208" width="2" height="1" fill="#0064ff"/>
<rect x="1142" y="208" width="2" height="1" fill="#0064ff"/>
<rect x="1147" y="208" width="2" height="1" fill="#0064ff"/>
<rect x="1152" y="208" width="2" height="1" fill="#0064ff"/>
<rect x="1157" y="208" width="2" height="1" fill="#0064ff"/>
<rect x="1162" y="208" width="2" height="1" fill="#0064ff"/>
<rect x="1167" y="208" width="2" height="1" fill="#0064ff"/>
<rect x="1172" y="208" width="2" height="1" fill="#0064ff"/>
<rect x="1177" y="208" width="2" height="1" fill="#0064ff"/>
<rect x="1182" y="208" width="2" height="1" fill="#0064ff"/>
<rect x="1187" y="208" width="2" height="1" fill="#0064ff"/>
<rect x="1192" y="208" width="2" height="1" fill="#0064ff"/>
<rect x="1197" y="208" width="2" height="1" fill="#0064ff"/>
<rect x="1202" y="208" width="2" height="1" fill="#0064ff"/>
<rect x="1207" y="208" width="2" height="1" fill="#0064ff"/>
<rect x="1212" y="208" width="2" height="1" fill="#0064ff"/>
<rect x="1217" y="208" width="2" height="1" fill="#0064ff"/>
<rect x="1222" y="208" width="2" height="1" fill="#0064ff"/>
<rect x="1227" y="208" width="2" height="1" fill="#0064ff"/>
<rect x="1232" y="208" width="2" height="1" fill="#0064ff"/>
<rect x="1237" y="208" width="2" height="1" fill="#0064ff"/>
<rect x="1242" y="208" width="2" height="1" fill="#0064ff"/>
<rect x="1247" y="208" width="2" height="1" fill="#0064ff"/>
<rect x="1252" y="208" width="2" height="1" fill="#0064ff"/>
<rect x="1257" y="208" width="2" height="1" fill="#0064ff"/>
<rect x="1262" y="208" width="2" height="1" fill="#0064ff"/>
<rect x="1267" y="208" width="2" height="1" fill="#0064ff"/>
<rect x="1272" y="208" width="2" height="1" fill="#0064ff"/>
<rect x="1277" y="208" width="2" height="1" fill="#0064ff"/>
<rect x="1282" y="208" width="2" height="1" fill="#0064ff"/>
<rect x="1287" y="208" width="2" height="1" fill="#0064ff"/>
<rect x="1292" y="208" width="2" height="1" fill="#0064ff"/>
<rect x="1297" y="208" width="2" height="1" fill="#0064ff"/>
<rect x="1302" y="208" width="2" height="1" fill="#0064ff"/>
<rect x="1307" y="208" width="2" height="1" fill="#0064ff"/>
<rect x="1312" y="208" width="2" height="1" fill="#0064ff"/>
<rect x="1317" y="208" width="2" height="1" fill="#0064ff"/>
<rect x="1322" y="208" width="2" height="1" fill="#0064ff"/>
<rect x="1327" y="208" width="2" height="1" fill="#0064ff"/>
<rect x="1332" y="208" width="2" height="1" fill="#0064ff"/>
<rect x="1337" y="208" width="2" height="1" fill="#0064ff"/>
<rect x="1342" y="208" width="2" height="1" fill="#0064ff"/>
<rect x="1347" y="208" width="2" height="1" fill="#0064ff"/>
<rect x="1352" y="208" width="2" height="1" fill="#0064ff"/>
<rect x="1357" y="208" width="2" height="1" fill="#0064ff"/>
<rect x="1362" y="208" width="2" height="1" fill="#0064ff"/>
<rect x="1367" y="208" width="2" height="1" fill="#0064ff"/>
<rect x="1372" y="208" width="2" height="1" fill="#0064ff"/>
<rect x="1377" y="208" width="2" height="1" fill="#0064ff"/>
<rect x="1382" y="208" width="2" height="1" fill="#0064ff"/>
<rect x="1387" y="208" width="2" height="1" fill="#0064ff"/>
<rect x="1392" y="208" width="2" height="1" fill="#0064ff"/>
<rect x="1397" y="208" width="2" height="1" fill="#0064ff"/>
<rect x="1402" y="208" width="2" height="1" fill="#0064ff"/>
<rect x="1407" y="208" width="2" height="1" fill="#0064ff"/>
<rect x="1412" y="208" width="2" height="1" fill="#0064ff"/>
<rect x="1417" y="208" width="2" height="1" fill="#0064ff"/>
<rect x="1422" y="208" width="2" height="1" fill="#0064ff"/>
<rect x="1427" y="208" width="2" height="1" fill="#0064ff"/>
<rect x="1432" y="208" width="2" height="1" fill="#0064ff"/>
<rect x="1437" y="208" width="2" height="1" fill="#0064ff"/>
<rect x="1442" y="208" width="2" height="1" fill="#0064ff"/>
<rect x="1447" y="208" width="2" height="1" fill="#0064ff"/>
<rect x="1452" y="208" width="2" height="1" fill="#0064ff"/>
<rect x="1457" y="208" width="2" height="1" fill="#0064ff"/>
<rect x="1462" y="208" width="2" height="1" fill="#0064ff"/>
<rect x="1467" y="208" width="2" height="1" fill="#0064ff"/>
<rect x="1472" y="208" width="2" height="1" fill="#0064ff"/>
<rect x="1477" y="208" width="2" height="1" fill="#0064ff"/>
<rect x="1482" y="208" width="2" height="1" fill="#0064ff"/>
<rect x="1487" y="208" width="2" height="1" fill="#0064ff"/>
<rect x="1492" y="208" width="2" height="1" fill="#0064ff"/>
<rect x="1497" y="208" width="2" height="1" fill="#0064ff"/>
<rect x="1502" y="208" width="2" height="1" fill="#0064ff"/>
<rect x="1507" y="208" width="2" height="1" fill="#0064ff"/>
<rect x="1512" y="208" width="2" height="1" fill="#0064ff"/>
<rect x="1517" y="208" width="2" height="1" fill="#0064ff"/>
<rect x="1522" y="208" width="2" height="1" fill="#0064ff"/>
<rect x="1527" y="208" width="2" height="1" fill="#0064ff"/>
<rect x="1532" y="208" width="2" height="1" fill="#0064ff"/>
<rect x="767" y="201" width="179" height="14" fill="#00c000"/>
<rect x="1535" y="204" width="11" height="8" fill="#0064ff"/>
<rect x="698" y="227" width="616" height="14" fill="#00c000"/>
<rect x="698" y="230" width="616" height="8" fill="#0064ff"/>
<rect x="698" y="253" width="39" height="14" fill="#00c000"/>
<rect x="698" y="256" width="39" height="8" fill="#0064ff"/>
<rect x="698" y="288" width="7" height="14" fill="#00c000"/>
<rect x="698" y="291" width="7" height="8" fill="#0064ff"/>
<rect x="725" y="324" width="2" height="1" fill="#0064ff"/>
<rect x="730" y="324" width="2" height="1" fill="#0064ff"/>
<rect x="735" y="324" width="2" height="1" fill="#0064ff"/>
<rect x="740" y="324" width="2" height="1" fill="#0064ff"/>
<rect x="745" y="324" width="2" height="1" fill="#0064ff"/>
<rect x="750" y="324" width="2" height="1" fill="#0064ff"/>
<rect x="755" y="324" width="2" height="1" fill="#0064ff"/>
<rect x="760" y="324" width="2" height="1" fill="#0064ff"/>
<rect x="765" y="324" width="2" height="1" fill="#0064ff"/>
<rect x="770" y="324" width="2" height="1" fill="#0064ff"/>
<rect x="775" y="324" width="2" height="1" fill="#0064ff"/>
<rect x="780" y="324" width="2" height="1" fill="#0064ff"/>
<rect x="785" y="324" width="2" height="1" fill="#0064ff"/>
<rect x="790" y="324" width="2" height="1" fill="#0064ff"/>
<rect x="795" y="324" width="2" height="1" fill="#0064ff"/>
<rect x="800" y="324" width="2" height="1" fill="#0064ff"/>
<rect x="805" y="324" width="2" height="1" fill="#0064ff"/>
<rect x="810" y="324" width="2" height="1" fill="#0064ff"/>
<rect x="815" y="324" width="2" height="1" fill="#0064ff"/>
<rect x="820" y="324" width="2" height="1" fill="#0064ff"/>
<rect x="825" y="324" width="2" height="1" fill="#0064ff"/>
<rect x="830" y="324" width="2" height="1" fill="#0064ff"/>
<rect x="835" y="324" width="2" height="1" fill="#0064ff"/>
<rect x="840" y="324" width="2" height="1" fill="#0064ff"/>
<rect x="845" y="324" width="2" height="1" fill="#0064ff"/>
<rect x="850" y="324" width="2" height="1" fill="#0064ff"/>
<rect x="855" y="324" width="2" height="1" fill="#0064ff"/>
<rect x="860" y="324" width="2" height="1" fill="#0064ff"/>
<rect x="865" y="324" width="2" height="1" fill="#0064ff"/>
<rect x="870" y="324" width="2" height="1" fill="#0064ff"/>
<rect x="875" y="324" width="2" height="1" fill="#0064ff"/>
<rect x="880" y="324" width="2" height="1" fill="#0064ff"/>
<rect x="885" y="324" width="2" height="1" fill="#0064ff"/>
<rect x="890" y="324" width="2" height="1" fill="#0064ff"/>
<rect x="895" y="324" width="2" height="1" fill="#0064ff"/>
<rect x="900" y="324" width="2" height="1" fill="#0064ff"/>
<rect x="905" y="324" width="2" height="1" fill="#0064ff"/>
<rect x="910" y="324" width="2" height="1" fill="#0064ff"/>
<rect x="915" y="324" width="2" height="1" fill="#0064ff"/>
<rect x="920" y="324" width="2" height="1" fill="#0064ff"/>
<rect x="925" y="324" width="2" height="1" fill="#0064ff"/>
<rect x="930" y="324" width="2" height="1" fill="#0064ff"/>
<rect x="935" y="324" width="2" height="1" fill="#0064ff"/>
<rect x="940" y="324" width="2" height="1" fill="#0064ff"/>
<rect x="945" y="324" width="2" height="1" fill="#0064ff"/>
<rect x="950" y="324" width="2" height="1" fill="#0064ff"/>
<rect x="955" y="324" width="2" height="1" fill="#0064ff"/>
<rect x="960" y="324" width="2" height="1" fill="#0064ff"/>
<rect x="965" y="324" width="2" height="1" fill="#0064ff"/>
<rect x="970" y="324" width="2" height="1" fill="#0064ff"/>
<rect x="975" y="324" width="2" height="1" fill="#0064ff"/>
<rect x="980" y="324" width="2" height="1" fill="#0064ff"/>
<rect x="985" y="324" width="2" height="1" fill="#0064ff"/>
<rect x="990" y="324" width="2" height="1" fill="#0064ff"/>
<rect x="995" y="324" width="2" height="1" fill="#0064ff"/>
<rect x="1000" y="324" width="2" height="1" fill="#0064ff"/>
<rect x="1005" y="324" width="2" height="1" fill="#0064ff"/>
<rect x="1010" y="324" width="2" height="1" fill="#0064ff"/>
<rect x="1015" y="324" width="2" height="1" fill="#0064ff"/>
<rect x="1020" y="324" width="2" height="1" fill="#0064ff"/>
<rect x="1025" y="324" width="2" height="1" fill="#0064ff"/>
<rect x="1030" y="324" width="2" height="1" fill="#0064ff"/>
<rect x="1035" y="324" width="2" height="1" fill="#0064ff"/>
<rect x="1040" y="324" width="2" height="1" fill="#0064ff"/>
<rect x="1045" y="324" width="2" height="1" fill="#0064ff"/>
<rect x="1050" y="324" width="2" height="1" fill="#0064ff"/>
<rect x="1055" y="324" width="2" height="1" fill="#0064ff"/>
<rect x="1060" y="324" width="2" height="1" fill="#0064ff"/>
<rect x="1065" y="324" width="2" height="1" fill="#0064ff"/>
<rect x="1070" y="324" width="2" height="1" fill="#0064ff"/>
<rect x="1075" y="324" width="2" height="1" fill="#0064ff"/>
<rect x="1080" y="324" width="2" height="1" fill="#0064ff"/>
<rect x="1085" y="324" width="2" height="1" fill="#0064ff"/>
<rect x="1090" y="324" width="2" height="1" fill="#0064ff"/>
<rect x="1095" y="324" width="2" height="1" fill="#0064ff"/>
<rect x="1100" y="324" width="2" height="1" fill="#0064ff"/>
<rect x="1105" y="324" width="2" height="1" fill="#0064ff"/>
<rect x="1110" y="324" width="2" height="1" fill="#0064ff"/>
<rect x="1115" y="324" width="2" height="1" fill="#0064ff"/>
<rect x="1120" y="324" width="2" height="1" fill="#0064ff"/>
<rect x="1125" y="324" width="2" height="1" fill="#0064ff"/>
<rect x="1130" y="324" width="2" height="1" fill="#0064ff"/>
<rect x="1135" y="324" width="2" height="1" fill="#0064ff"/>
<rect x="1140" y="324" width="2" height="1" fill="#0064ff"/>
<rect x="1145" y="324" width="2" height="1" fill="#0064ff"/>
<rect x="1150" y="324" width="2" height="1" fill="#0064ff"/>
<rect x="1155" y="324" width="2" height="1" fill="#0064ff"/>
<rect x="1160" y="324" width="2" height="1" fill="#0064ff"/>
<rect x="1165" y="324" width="2" height="1" fill="#0064ff"/>
<rect x="1170" y="324" width="2" height="1" fill="#0064ff"/>
<rect x="1175" y="324" width="2" height="1" fill="#0064ff"/>
<rect x="1180" y="324" width="2" height="1" fill="#0064ff"/>
<rect x="1185" y="324" width="2" height="1" fill="#0064ff"/>
<rect x="1190" y="324" width="2" height="1" fill="#0064ff"/>
<rect x="1195" y="324" width="2" height="1" fill="#0064ff"/>
<rect x="1200" y="324" width="2" height="1" fill="#0064ff"/>
<rect x="1205" y="324" width="2" height="1" fill="#0064ff"/>
<rect x="1210" y="324" width="2" height="1" fill="#0064ff"/>
<rect x="1215" y="324" width="2" height="1" fill="#0064ff"/>
<rect x="1220" y="324" width="2" height="1" fill="#0064ff"/>
<rect x="1225" y="324" width="2" height="1" fill="#0064ff"/>
<rect x="1230" y="324" width="2" height="1" fill="#0064ff"/>
<rect x="1235" y="324" width="2" height="1" fill="#0064ff"/>
<rect x="1240" y="324" width="2" height="1" fill="#0064ff"/>
<rect x="1245" y="324" width="2" height="1" fill="#0064ff"/>
<rect x="1250" y="324" width="2" height="1" fill="#0064ff"/>
<rect x="1255" y="324" width="2" height="1" fill="#0064ff"/>
<rect x="1260" y="324" width="2" height="1" fill="#0064ff"/>
<rect x="1265" y="324" width="2" height="1" fill="#0064ff"/>
<rect x="1270" y="324" width="2" height="1" fill="#0064ff"/>
<rect x="1275" y="324" width="2" height="1" fill="#0064ff"/>
<rect x="1280" y="324" width="2" height="1" fill="#0064ff"/>
<rect x="1285" y="324" width="2" height="1" fill="#0064ff"/>
<rect x="1290" y="324" width="2" height="1" fill="#0064ff"/>
<rect x="1295" y="324" width="2" height="1" fill="#0064ff"/>
<rect x="1300" y="324" width="2" height="1" fill="#0064ff"/>
<rect x="1305" y="324" width="2" height="1" fill="#0064ff"/>
<rect x="1310" y="324" width="2" height="1" fill="#0064ff"/>
<rect x="1315" y="324" width="2" height="1" fill="#0064ff"/>
<rect x="1320" y="324" width="2" height="1" fill="#0064ff"/>
<rect x="1325" y="324" width="2" height="1" fill="#0064ff"/>
<rect x="1330" y="324" width="2" height="1" fill="#0064ff"/>
<rect x="1335" y="324" width="2" height="1" fill="#0064ff"/>
<rect x="1340" y="324" width="2" height="1" fill="#0064ff"/>
<rect x="1345" y="324" width="2" height="1" fill="#0064ff"/>
<rect x="1350" y="324" width="2" height="1" fill="#0064ff"/>
<rect x="1355" y="324" width="2" height="1" fill="#0064ff"/>
<rect x="1360" y="324" width="2" height="1" fill="#0064ff"/>
<rect x="1365" y="324" width="2" height="1" fill="#0064ff"/>
<rect x="1370" y="324" width="2" height="1" fill="#0064ff"/>
<rect x="1375" y="324" width="2" height="1" fill="#0064ff"/>
<rect x="1380" y="324" width="2" height="1" fill="#0064ff"/>
<rect x="1385" y="324" width="2" height="1" fill="#0064ff"/>
<rect x="1390" y="324" width="2" height="1" fill="#0064ff"/>
<rect x="1395" y="324" width="2" height="1" fill="#0064ff"/>
<rect x="1400" y="324" width="2" height="1" fill="#0064ff"/>
<rect x="1405" y="324" width="2" height="1" fill="#0064ff"/>
<rect x="1410" y="324" width="2" height="1" fill="#0064ff"/>
<rect x="1415" y="324" width="2" height="1" fill="#0064ff"/>
<rect x="1420" y="324" width="2" height="1" fill="#0064ff"/>
<rect x="1425" y="324" width="2" height="1" fill="#0064ff"/>
<rect x="1430" y="324" width="2" height="1" fill="#0064ff"/>
<rect x="1435" y="324" width="2" height="1" fill="#0064ff"/>
<rect x="1440" y="324" width="2" height="1" fill="#0064ff"/>
<rect x="1445" y="324" width="2" height="1" fill="#0064ff"/>
<rect x="1450" y="324" width="2" height="1" fill="#0064ff"/>
<rect x="1455" y="324" width="2" height="1" fill="#0064ff"/>
<rect x="1460" y="324" width="2" height="1" fill="#0064ff"/>
<rect x="1465" y="324" width="2" height="1" fill="#0064ff"/>
<rect x="1470" y="324" width="2" height="1" fill="#0064ff"/>
<rect x="1475" y="324" width="2" height="1" fill="#0064ff"/>
<rect x="1480" y="324" width="2" height="1" fill="#0064ff"/>
<rect x="1485" y="324" width="2" height="1" fill="#0064ff"/>
<rect x="1490" y="324" width="2" height="1" fill="#0064ff"/>
<rect x="1495" y="324" width="2" height="1" fill="#0064ff"/>
<rect x="1500" y="324" width="2" height="1" fill="#0064ff"/>
<rect x="1505" y="324" width="2" height="1" fill="#0064ff"/>
<rect x="1510" y="324" width="2" height="1" fill="#0064ff"/>
<rect x="1515" y="324" width="2" height="1" fill="#0064ff"/>
<rect x="1520" y="324" width="2" height="1" fill="#0064ff"/>
<rect x="1525" y="324" width="2" height="1" fill="#0064ff"/>
<rect x="1530" y="324" width="2" height="1" fill="#0064ff"/>
<rect x="1535" y="324" width="2" height="1" fill="#0064ff"/>
<rect x="1540" y="324" width="2" height="1" fill="#0064ff"/>
<rect x="1545" y="324" width="1" height="1" fill="#0064ff"/>
<rect x="704" y="318" width="20" height="13" fill="#00c000"/>
<rect x="731" y="354" width="2" height="1" fill="#0064ff"/>
<rect x="736" y="354" width="2" height="1" fill="#0064ff"/>
<rect x="741" y="354" width="2" height="1" fill="#0064ff"/>
<rect x="746" y="354" width="2" height="1" fill="#0064ff"/>
<rect x="751" y="354" width="2" height="1" fill="#0064ff"/>
<rect x="756" y="354" width="2" height="1" fill="#0064ff"/>
<rect x="761" y="354" width="2" height="1" fill="#0064ff"/>
<rect x="766" y="354" width="2" height="1" fill="#0064ff"/>
<rect x="771" y="354" width="2" height="1" fill="#0064ff"/>
<rect x="776" y="354" width="2" height="1" fill="#0064ff"/>
<rect x="781" y="354" width="2" height="1" fill="#0064ff"/>
<rect x="786" y="354" width="2" height="1" fill="#0064ff"/>
<rect x="791" y="354" width="2" height="1" fill="#0064ff"/>
<rect x="796" y="354" width="2" height="1" fill="#0064ff"/>
<rect x="801" y="354" width="2" height="1" fill="#0064ff"/>
<rect x="806" y="354" width="2" height="1" fill="#0064ff"/>
<rect x="811" y="354" width="2" height="1" fill="#0064ff"/>
<rect x="816" y="354" width="2" height="1" fill="#0064ff"/>
<rect x="821" y="354" width="2" height="1" fill="#0064ff"/>
<rect x="826" y="354" width="2" height="1" fill="#0064ff"/>
<rect x="831" y="354" width="2" height="1" fill="#0064ff"/>
<rect x="836" y="354" width="2" height="1" fill="#0064ff"/>
<rect x="841" y="354" width="2" height="1" fill="#0064ff"/>
<rect x="846" y="354" width="2" height="1" fill="#0064ff"/>
<rect x="851" y="354" width="2" height="1" fill="#0064ff"/>
<rect x="856" y="354" width="2" height="1" fill="#0064ff"/>
<rect x="861" y="354" width="2" height="1" fill="#0064ff"/>
<rect x="866" y="354" width="2" height="1" fill="#0064ff"/>
<rect x="871" y="354" width="2" height="1" fill="#0064ff"/>
<rect x="876" y="354" width="2" height="1" fill="#0064ff"/>
<rect x="881" y="354" width="2" height="1" fill="#0064ff"/>
<rect x="886" y="354" width="2" height="1" fill="#0064ff"/>
<rect x="891" y="354" width="2" height="1" fill="#0064ff"/>
<rect x="896" y="354" width="2" height="1" fill="#0064ff"/>
<rect x="901" y="354" width="2" height="1" fill="#0064ff"/>
<rect x="906" y="354" width="2" height="1" fill="#0064ff"/>
<rect x="911" y="354" width="2" height="1" fill="#0064ff"/>
<rect x="916" y="354" width="2" height="1" fill="#0064ff"/>
<rect x="921" y="354" width="2" height="1" fill="#0064ff"/>
<rect x="926" y="354" width="2" height="1" fill="#0064ff"/>
<rect x="931" y="354" width="2" height="1" fill="#0064ff"/>
<rect x="936" y="354" width="2" height="1" fill="#0064ff"/>
<rect x="941" y="354" width="2" height="1" fill="#0064ff"/>
<rect x="946" y="354" width="2" height="1" fill="#0064ff"/>
<rect x="951" y="354" width="2" height="1" fill="#0064ff"/>
<rect x="956" y="354" width="2" height="1" fill="#0064ff"/>
<rect x="961" y="354" width="2" height="1" fill="#0064ff"/>
<rect x="966" y="354" width="2" height="1" fill="#0064ff"/>
<rect x="971" y="354" width="2" height="1" fill="#0064ff"/>
<rect x="976" y="354" width="2" height="1" fill="#0064ff"/>
<rect x="981" y="354" width="2" height="1" fill="#0064ff"/>
<rect x="986" y="354" width="2" height="1" fill="#0064ff"/>
<rect x="991" y="354" width="2" height="1" fill="#0064ff"/>
<rect x="996" y="354" width="2" height="1" fill="#0064ff"/>
<rect x="1001" y="354" width="2" height="1" fill="#0064ff"/>
<rect x="1006" y="354" width="2" height="1" fill="#0064ff"/>
<rect x="1011" y="354" width="2" height="1" fill="#0064ff"/>
<rect x="1016" y="354" width="2" height="1" fill="#0064ff"/>
<rect x="1021" y="354" width="2" height="1" fill="#0064ff"/>
<rect x="1026" y="354" width="2" height="1" fill="#0064ff"/>
<rect x="1031" y="354" width="2" height="1" fill="#0064ff"/>
<rect x="1036" y="354" width="2" height="1" fill="#0064ff"/>
<rect x="1041" y="354" width="2" height="1" fill="#0064ff"/>
<rect x="1046" y="354" width="2" height="1" fill="#0064ff"/>
<rect x="1051" y="354" width="2" height="1" fill="#0064ff"/>
<rect x="1056" y="354" width="2" height="1" fill="#0064ff"/>
<rect x="1061" y="354" width="2" height="1" fill="#0064ff"/>
<rect x="1066" y="354" width="2" height="1" fill="#0064ff"/>
<rect x="1071" y="354" width="2" height="1" fill="#0064ff"/>
<rect x="1076" y="354" width="2" height="1" fill="#0064ff"/>
<rect x="1081" y="354" width="2" height="1" fill="#0064ff"/>
<rect x="1086" y="354" width="2" height="1" fill="#0064ff"/>
<rect x="1091" y="354" width="2" height="1" fill="#0064ff"/>
<rect x="1096" y="354" width="2" height="1" fill="#0064ff"/>
<rect x="1101" y="354" width="2" height="1" fill="#0064ff"/>
<rect x="1106" y="354" width="2" height="1" fill="#0064ff"/>
<rect x="1111" y="354" width="2" height="1" fill="#0064ff"/>
<rect x="1116" y="354" width="2" height="1" fill="#0064ff"/>
<rect x="1121" y="354" width="2" height="1" fill="#0064ff"/>
<rect x="1126" y="354" width="2" height="1" fill="#0064ff"/>
<rect x="1131" y="354" width="2" height="1" fill="#0064ff"/>
<rect x="1136" y="354" width="2" height="1" fill="#0064ff"/>
<rect x="1141" y="354" width="2" height="1" fill="#0064ff"/>
<rect x="1146" y="354" width="2" height="1" fill="#0064ff"/>
<rect x="1151" y="354" width="2" height="1" fill="#0064ff"/>
<rect x="1156" y="354" width="2" height="1" fill="#0064ff"/>
<rect x="1161" y="354" width="2" height="1" fill="#0064ff"/>
<rect x="1166" y="354" width="2" height="1" fill="#0064ff"/>
<rect x="1171" y="354" width="2" height="1" fill="#0064ff"/>
<rect x="1176" y="354" width="2" height="1" fill="#0064ff"/>
<rect x="1181" y="354" width="2" height="1" fill="#0064ff"/>
<rect x="1186" y="354" width="2" height="1" fill="#0064ff"/>
<rect x="1191" y="354" width="2" height="1" fill="#0064ff"/>
<rect x="1196" y="354" width="2" height="1" fill="#0064ff"/>
<rect x="1201" y="354" width="2" height="1" fill="#0064ff"/>
<rect x="1206" y="354" width="2" height="1" fill="#0064ff"/>
<rect x="1211" y="354" width="2" height="1" fill="#0064ff"/>
<rect x="1216" y="354" width="2" height="1" fill="#0064ff"/>
<rect x="1221" y="354" width="2" height="1" fill="#0064ff"/>
<rect x="1226" y="354" width="2" height="1" fill="#0064ff"/>
<rect x="1231" y="354" width="2" height="1" fill="#0064ff"/>
<rect x="1236" y="354" width="2" height="1" fill="#0064ff"/>
<rect x="1241" y="354" width="2" height="1" fill="#0064ff"/>
<rect x="1246" y="354" width="2" height="1" fill="#0064ff"/>
<rect x="1251" y="354" width="2" height="1" fill="#0064ff"/>
<rect x="1256" y="354" width="2" height="1" fill="#0064ff"/>
<rect x="1261" y="354" width="2" height="1" fill="#0064ff"/>
<rect x="1266" y="354" width="2" height="1" fill="#0064ff"/>
<rect x="1271" y="354" width="2" height="1" fill="#0064ff"/>
<rect x="1276" y="354" width="2" height="1" fill="#0064ff"/>
<rect x="1281" y="354" width="2" height="1" fill="#0064ff"/>
<rect x="1286" y="354" width="2" height="1" fill="#0064ff"/>
<rect x="1291" y="354" width="2" height="1" fill="#0064ff"/>
<rect x="1296" y="354" width="2" height="1" fill="#0064ff"/>
<rect x="1301" y="354" width="2" height="1" fill="#0064ff"/>
<rect x="1306" y="354" width="2" height="1" fill="#0064ff"/>
<rect x="1311" y="354" width="2" height="1" fill="#0064ff"/>
<rect x="1316" y="354" width="2" height="1" fill="#0064ff"/>
<rect x="1321" y="354" width="2" height="1" fill="#0064ff"/>
<rect x="1326" y="354" width="2" height="1" fill="#0064ff"/>
<rect x="1331" y="354" width="2" height="1" fill="#0064ff"/>
<rect x="1336" y="354" width="2" height="1" fill="#0064ff"/>
<rect x="1341" y="354" width="2" height="1" fill="#0064ff"/>
<rect x="1346" y="354" width="2" height="1" fill="#0064ff"/>
<rect x="1351" y="354" width="2" height="1" fill="#0064ff"/>
<rect x="1356" y="354" width="2" height="1" fill="#0064ff"/>
<rect x="1361" y="354" width="2" height="1" fill="#0064ff"/>
<rect x="1366" y="354" width="2" height="1" fill="#0064ff"/>
<rect x="1371" y="354" width="2" height="1" fill="#0064ff"/>
<rect x="1376" y="354" width="2" height="1" fill="#0064ff"/>
<rect x="1381" y="354" width="2" height="1" fill="#0064ff"/>
<rect x="1386" y="354" width="2" height="1" fill="#0064ff"/>
<rect x="1391" y="354" width="2" height="1" fill="#0064ff"/>
<rect x="1396" y="354" width="2" height="1" fill="#0064ff"/>
<rect x="1401" y="354" width="2" height="1" fill="#0064ff"/>
<rect x="1406" y="354" width="2" height="1" fill="#0064ff"/>
<rect x="1411" y="354" width="2" height="1" fill="#0064ff"/>
<rect x="1416" y="354" width="2" height="1" fill="#0064ff"/>
<rect x="1421" y="354" width="2" height="1" fill="#0064ff"/>
<rect x="1426" y="354" width="2" height="1" fill="#0064ff"/>
<rect x="1431" y="354" width="2" height="1" fill="#0064ff"/>
<rect x="1436" y="354" width="2" height="1" fill="#0064ff"/>
<rect x="1441" y="354" width="2" height="1" fill="#0064ff"/>
<rect x="1446" y="354" width="2" height="1" fill="#0064ff"/>
<rect x="1451" y="354" width="2" height="1" fill="#0064ff"/>
<rect x="1456" y="354" width="2" height="1" fill="#0064ff"/>
<rect x="1461" y="354" width="2" height="1" fill="#0064ff"/>
<rect x="1466" y="354" width="2" height="1" fill="#0064ff"/>
<rect x="1471" y="354" width="2" height="1" fill="#0064ff"/>
<rect x="1476" y="354" width="2" height="1" fill="#0064ff"/>
<rect x="1481" y="354" width="2" height="1" fill="#0064ff"/>
<rect x="1486" y="354" width="2" height="1" fill="#0064ff"/>
<rect x="1491" y="354" width="2" height="1" fill="#0064ff"/>
<rect x="1496" y="354" width="2" height="1" fill="#0064ff"/>
<rect x="1501" y="354" width="2" height="1" fill="#0064ff"/>
<rect x="1506" y="354" width="2" height="1" fill="#0064ff"/>
<rect x="1511" y="354" width="2" height="1" fill="#0064ff"/>
<rect x="1516" y="354" width="2" height="1" fill="#0064ff"/>
<rect x="1521" y="354" width="2" height="1" fill="#0064ff"/>
<rect x="1526" y="354" width="2" height="1" fill="#0064ff"/>
<rect x="1531" y="354" width="2" height="1" fill="#0064ff"/>
<rect x="1536" y="354" width="2" height="1" fill="#0064ff"/>
<rect x="1541" y="354" width="2" height="1" fill="#0064ff"/>
<rect x="723" y="347" width="7" height="14" fill="#00c000"/>
<rect x="738" y="383" width="2" height="1" fill="#0064ff"/>
<rect x="743" y="383" width="2" height="1" fill="#0064ff"/>
<rect x="748" y="383" width="2" height="1" fill="#0064ff"/>
<rect x="753" y="383" width="2" height="1" fill="#0064ff"/>
<rect x="758" y="383" width="2" height="1" fill="#0064ff"/>
<rect x="763" y="383" width="2" height="1" fill="#0064ff"/>
<rect x="768" y="383" width="2" height="1" fill="#0064ff"/>
<rect x="773" y="383" width="2" height="1" fill="#0064ff"/>
<rect x="778" y="383" width="2" height="1" fill="#0064ff"/>
<rect x="783" y="383" width="2" height="1" fill="#0064ff"/>
<rect x="788" y="383" width="2" height="1" fill="#0064ff"/>
<rect x="793" y="383" width="2" height="1" fill="#0064ff"/>
<rect x="798" y="383" width="2" height="1" fill="#0064ff"/>
<rect x="803" y="383" width="2" height="1" fill="#0064ff"/>
<rect x="808" y="383" width="2" height="1" fill="#0064ff"/>
<rect x="813" y="383" width="2" height="1" fill="#0064ff"/>
<rect x="818" y="383" width="2" height="1" fill="#0064ff"/>
<rect x="823" y="383" width="2" height="1" fill="#0064ff"/>
<rect x="828" y="383" width="2" height="1" fill="#0064ff"/>
<rect x="833" y="383" width="2" height="1" fill="#0064ff"/>
<rect x="838" y="383" width="2" height="1" fill="#0064ff"/>
<rect x="843" y="383" width="2" height="1" fill="#0064ff"/>
<rect x="848" y="383" width="2" height="1" fill="#0064ff"/>
<rect x="853" y="383" width="2" height="1" fill="#0064ff"/>
<rect x="858" y="383" width="2" height="1" fill="#0064ff"/>
<rect x="863" y="383" width="2" height="1" fill="#0064ff"/>
<rect x="868" y="383" width="2" height="1" fill="#0064ff"/>
<rect x="873" y="383" width="2" height="1" fill="#0064ff"/>
<rect x="878" y="383" width="2" height="1" fill="#0064ff"/>
<rect x="883" y="383" width="2" height="1" fill="#0064ff"/>
<rect x="888" y="383" width="2" height="1" fill="#0064ff"/>
<rect x="893" y="383" width="2" height="1" fill="#0064ff"/>
<rect x="898" y="383" width="2" height="1" fill="#0064ff"/>
<rect x="903" y="383" width="2" height="1" fill="#0064ff"/>
<rect x="908" y="383" width="2" height="1" fill="#0064ff"/>
<rect x="913" y="383" width="2" height="1" fill="#0064ff"/>
<rect x="918" y="383" width="2" height="1" fill="#0064ff"/>
<rect x="923" y="383" width="2" height="1" fill="#0064ff"/>
<rect x="928" y="383" width="2" height="1" fill="#0064ff"/>
<rect x="933" y="383" width="2" height="1" fill="#0064ff"/>
<rect x="938" y="383" width="2" height="1" fill="#0064ff"/>
<rect x="943" y="383" width="2" height="1" fill="#0064ff"/>
<rect x="948" y="383" width="2" height="1" fill="#0064ff"/>
<rect x="953" y="383" width="2" height="1" fill="#0064ff"/>
<rect x="958" y="383" width="2" height="1" fill="#0064ff"/>
<rect x="963" y="383" width="2" height="1" fill="#0064ff"/>
<rect x="968" y="383" width="2" height="1" fill="#0064ff"/>
<rect x="973" y="383" width="2" height="1" fill="#0064ff"/>
<rect x="978" y="383" width="2" height="1" fill="#0064ff"/>
<rect x="983" y="383" width="2" height="1" fill="#0064ff"/>
<rect x="988" y="383" width="2" height="1" fill="#0064ff"/>
<rect x="993" y="383" width="2" height="1" fill="#0064ff"/>
<rect x="998" y="383" width="2" height="1" fill="#0064ff"/>
<rect x="1003" y="383" width="2" height="1" fill="#0064ff"/>
<rect x="1008" y="383" width="2" height="1" fill="#0064ff"/>
<rect x="1013" y="383" width="2" height="1" fill="#0064ff"/>
<rect x="1018" y="383" width="2" height="1" fill="#0064ff"/>
<rect x="1023" y="383" width="2" height="1" fill="#0064ff"/>
<rect x="1028" y="383" width="2" height="1" fill="#0064ff"/>
<rect x="1033" y="383" width="2" height="1" fill="#0064ff"/>
<rect x="1038" y="383" width="2" height="1" fill="#0064ff"/>
<rect x="1043" y="383" width="2" height="1" fill="#0064ff"/>
<rect x="1048" y="383" width="2" height="1" fill="#0064ff"/>
<rect x="1053" y="383" width="2" height="1" fill="#0064ff"/>
<rect x="1058" y="383" width="2" height="1" fill="#0064ff"/>
<rect x="1063" y="383" width="2" height="1" fill="#0064ff"/>
<rect x="1068" y="383" width="2" height="1" fill="#0064ff"/>
<rect x="1073" y="383" width="2" height="1" fill="#0064ff"/>
<rect x="1078" y="383" width="2" height="1" fill="#0064ff"/>
<rect x="1083" y="383" width="2" height="1" fill="#0064ff"/>
<rect x="1088" y="383" width="2" height="1" fill="#0064ff"/>
<rect x="1093" y="383" width="2" height="1" fill="#0064ff"/>
<rect x="1098" y="383" width="2" height="1" fill="#0064ff"/>
<rect x="1103" y="383" width="2" height="1" fill="#0064ff"/>
<rect x="1108" y="383" width="2" height="1" fill="#0064ff"/>
<rect x="1113" y="383" width="2" height="1" fill="#0064ff"/>
<rect x="1118" y="383" width="2" height="1" fill="#0064ff"/>
<rect x="1123" y="383" width="2" height="1" fill="#0064ff"/>
<rect x="1128" y="383" width="2" height="1" fill="#0064ff"/>
<rect x="1133" y="383" width="2" height="1" fill="#0064ff"/>
<rect x="1138" y="383" width="2" height="1" fill="#0064ff"/>
<rect x="1143" y="383" width="2" height="1" fill="#0064ff"/>
<rect x="1148" y="383" width="2" height="1" fill="#0064ff"/>
<rect x="1153" y="383" width="2" height="1" fill="#0064ff"/>
<rect x="1158" y="383" width="2" height="1" fill="#0064ff"/>
<rect x="1163" y="383" width="2" height="1" fill="#0064ff"/>
<rect x="1168" y="383" width="2" height="1" fill="#0064ff"/>
<rect x="1173" y="383" width="2" height="1" fill="#0064ff"/>
<rect x="1178" y="383" width="2" height="1" fill="#0064ff"/>
<rect x="1183" y="383" width="2" height="1" fill="#0064ff"/>
<rect x="1188" y="383" width="2" height="1" fill="#0064ff"/>
<rect x="1193" y="383" width="2" height="1" fill="#0064ff"/>
<rect x="1198" y="383" width="2" height="1" fill="#0064ff"/>
<rect x="1203" y="383" width="2" height="1" fill="#0064ff"/>
<rect x="1208" y="383" width="2" height="1" fill="#0064ff"/>
<rect x="1213" y="383" width="2" height="1" fill="#0064ff"/>
<rect x="1218" y="383" width="2" height="1" fill="#0064ff"/>
<rect x="1223" y="383" width="2" height="1" fill="#0064ff"/>
<rect x="1228" y="383" width="2" height="1" fill="#0064ff"/>
<rect x="1233" y="383" width="2" height="1" fill="#0064ff"/>
<rect x="1238" y="383" width="2" height="1" fill="#0064ff"/>
<rect x="1243" y="383" width="2" height="1" fill="#0064ff"/>
<rect x="1248" y="383" width="2" height="1" fill="#0064ff"/>
<rect x="1253" y="383" width="2" height="1" fill="#0064ff"/>
<rect x="1258" y="383" width="2" height="1" fill="#0064ff"/>
<rect x="1263" y="383" width="2" height="1" fill="#0064ff"/>
<rect x="1268" y="383" width="2" height="1" fill="#0064ff"/>
<rect x="1273" y="383" width="2" height="1" fill="#0064ff"/>
<rect x="1278" y="383" width="2" height="1" fill="#0064ff"/>
<rect x="1283" y="383" width="2" height="1" fill="#0064ff"/>
<rect x="1288" y="383" width="2" height="1" fill="#0064ff"/>
<rect x="1293" y="383" width="2" height="1" fill="#0064ff"/>
<rect x="1298" y="383" width="2" height="1" fill="#0064ff"/>
<rect x="1303" y="383" width="2" height="1" fill="#0064ff"/>
<rect x="1308" y="383" width="2" height="1" fill="#0064ff"/>
<rect x="1313" y="383" width="2" height="1" fill="#0064ff"/>
<rect x="1318" y="383" width="2" height="1" fill="#0064ff"/>
<rect x="1323" y="383" width="2" height="1" fill="#0064ff"/>
<rect x="1328" y="383" width="2" height="1" fill="#0064ff"/>
<rect x="1333" y="383" width="2" height="1" fill="#0064ff"/>
<rect x="1338" y="383" width="2" height="1" fill="#0064ff"/>
<rect x="1343" y="383" width="2" height="1" fill="#0064ff"/>
<rect x="1348" y="383" width="2" height="1" fill="#0064ff"/>
<rect x="1353" y="383" width="2" height="1" fill="#0064ff"/>
<rect x="1358" y="383" width="2" height="1" fill="#0064ff"/>
<rect x="1363" y="383" width="2" height="1" fill="#0064ff"/>
<rect x="1368" y="383" width="2" height="1" fill="#0064ff"/>
<rect x="1373" y="383" width="2" height="1" fill="#0064ff"/>
<rect x="1378" y="383" width="2" height="1" fill="#0064ff"/>
<rect x="1383" y="383" width="2" height="1" fill="#0064ff"/>
<rect x="1388" y="383" width="2" height="1" fill="#0064ff"/>
<rect x="1393" y="383" width="2" height="1" fill="#0064ff"/>
<rect x="1398" y="383" width="2" height="1" fill="#0064ff"/>
<rect x="1403" y="383" width="2" height="1" fill="#0064ff"/>
<rect x="1408" y="383" width="2" height="1" fill="#0064ff"/>
<rect x="1413" y="383" width="2" height="1" fill="#0064ff"/>
<rect x="1418" y="383" width="2" height="1" fill="#0064ff"/>
<rect x="1423" y="383" width="2" height="1" fill="#0064ff"/>
<rect x="1428" y="383" width="2" height="1" fill="#0064ff"/>
<rect x="1433" y="383" width="2" height="1" fill="#0064ff"/>
<rect x="1438" y="383" width="2" height="1" fill="#0064ff"/>
<rect x="1443" y="383" width="2" height="1" fill="#0064ff"/>
<rect x="1448" y="383" width="2" height="1" fill="#0064ff"/>
<rect x="1453" y="383" width="2" height="1" fill="#0064ff"/>
<rect x="1458" y="383" width="2" height="1" fill="#0064ff"/>
<rect x="1463" y="383" width="2" height="1" fill="#0064ff"/>
<rect x="1468" y="383" width="2" height="1" fill="#0064ff"/>
<rect x="1473" y="383" width="2" height="1" fill="#0064ff"/>
<rect x="1478" y="383" width="2" height="1" fill="#0064ff"/>
<rect x="1483" y="383" width="2" height="1" fill="#0064ff"/>
<rect x="1488" y="383" width="2" height="1" fill="#0064ff"/>
<rect x="1493" y="383" width="2" height="1" fill="#0064ff"/>
<rect x="1498" y="383" width="2" height="1" fill="#0064ff"/>
<rect x="1503" y="383" width="2" height="1" fill="#0064ff"/>
<rect x="1508" y="383" width="2" height="1" fill="#0064ff"/>
<rect x="1513" y="383" width="2" height="1" fill="#0064ff"/>
<rect x="1518" y="383" width="2" height="1" fill="#0064ff"/>
<rect x="1523" y="383" width="2" height="1" fill="#0064ff"/>
<rect x="1528" y="383" width="2" height="1" fill="#0064ff"/>
<rect x="1533" y="383" width="2" height="1" fill="#0064ff"/>
<rect x="1538" y="383" width="2" height="1" fill="#0064ff"/>
<rect x="1543" y="383" width="2" height="1" fill="#0064ff"/>
<rect x="729" y="377" width="8" height="13" fill="#00c000"/>
<rect x="814" y="413" width="2" height="1" fill="#0064ff"/>
<rect x="819" y="413" width="2" height="1" fill="#0064ff"/>
<rect x="824" y="413" width="2" height="1" fill="#0064ff"/>
<rect x="829" y="413" width="2" height="1" fill="#0064ff"/>
<rect x="834" y="413" width="2" height="1" fill="#0064ff"/>
<rect x="839" y="413" width="2" height="1" fill="#0064ff"/>
<rect x="844" y="413" width="2" height="1" fill="#0064ff"/>
<rect x="849" y="413" width="2" height="1" fill="#0064ff"/>
<rect x="854" y="413" width="2" height="1" fill="#0064ff"/>
<rect x="859" y="413" width="2" height="1" fill="#0064ff"/>
<rect x="864" y="413" width="2" height="1" fill="#0064ff"/>
<rect x="869" y="413" width="2" height="1" fill="#0064ff"/>
<rect x="874" y="413" width="2" height="1" fill="#0064ff"/>
<rect x="879" y="413" width="2" height="1" fill="#0064ff"/>
<rect x="884" y="413" width="2" height="1" fill="#0064ff"/>
<rect x="889" y="413" width="2" height="1" fill="#0064ff"/>
<rect x="894" y="413" width="2" height="1" fill="#0064ff"/>
<rect x="899" y="413" width="2" height="1" fill="#0064ff"/>
<rect x="904" y="413" width="2" height="1" fill="#0064ff"/>
<rect x="909" y="413" width="2" height="1" fill="#0064ff"/>
<rect x="914" y="413" width="2" height="1" fill="#0064ff"/>
<rect x="919" y="413" width="2" height="1" fill="#0064ff"/>
<rect x="924" y="413" width="2" height="1" fill="#0064ff"/>
<rect x="929" y="413" width="2" height="1" fill="#0064ff"/>
<rect x="934" y="413" width="2" height="1" fill="#0064ff"/>
<rect x="939" y="413" width="2" height="1" fill="#0064ff"/>
<rect x="944" y="413" width="2" height="1" fill="#0064ff"/>
<rect x="949" y="413" width="2" height="1" fill="#0064ff"/>
<rect x="954" y="413" width="2" height="1" fill="#0064ff"/>
<rect x="959" y="413" width="2" height="1" fill="#0064ff"/>
<rect x="964" y="413" width="2" height="1" fill="#0064ff"/>
<rect x="969" y="413" width="2" height="1" fill="#0064ff"/>
<rect x="974" y="413" width="2" height="1" fill="#0064ff"/>
<rect x="979" y="413" width="2" height="1" fill="#0064ff"/>
<rect x="984" y="413" width="2" height="1" fill="#0064ff"/>
<rect x="989" y="413" width="2" height="1" fill="#0064ff"/>
<rect x="994" y="413" width="2" height="1" fill="#0064ff"/>
<rect x="999" y="413" width="2" height="1" fill="#0064ff"/>
<rect x="1004" y="413" width="2" height="1" fill="#0064ff"/>
<rect x="1009" y="413" width="2" height="1" fill="#0064ff"/>
<rect x="1014" y="413" width="2" height="1" fill="#0064ff"/>
<rect x="1019" y="413" width="2" height="1" fill="#0064ff"/>
<rect x="1024" y="413" width="2" height="1" fill="#0064ff"/>
<rect x="1029" y="413" width="2" height="1" fill="#0064ff"/>
<rect x="1034" y="413" width="2" height="1" fill="#0064ff"/>
<rect x="1039" y="413" width="2" height="1" fill="#0064ff"/>
<rect x="1044" y="413" width="2" height="1" fill="#0064ff"/>
<rect x="1049" y="413" width="2" height="1" fill="#0064ff"/>
<rect x="1054" y="413" width="2" height="1" fill="#0064ff"/>
<rect x="1059" y="413" width="2" height="1" fill="#0064ff"/>
<rect x="1064" y="413" width="2" height="1" fill="#0064ff"/>
<rect x="1069" y="413" width="2" height="1" fill="#0064ff"/>
<rect x="1074" y="413" width="2" height="1" fill="#0064ff"/>
<rect x="1079" y="413" width="2" height="1" fill="#0064ff"/>
<rect x="1084" y="413" width="2" height="1" fill="#0064ff"/>
<rect x="1089" y="413" width="2" height="1" fill="#0064ff"/>
<rect x="1094" y="413" width="2" height="1" fill="#0064ff"/>
<rect x="1099" y="413" width="2" height="1" fill="#0064ff"/>
<rect x="1104" y="413" width="2" height="1" fill="#0064ff"/>
<rect x="1109" y="413" width="2" height="1" fill="#0064ff"/>
<rect x="1114" y="413" width="2" height="1" fill="#0064ff"/>
<rect x="1119" y="413" width="2" height="1" fill="#0064ff"/>
<rect x="1124" y="413" width="2" height="1" fill="#0064ff"/>
<rect x="1129" y="413" width="2" height="1" fill="#0064ff"/>
<rect x="1134" y="413" width="2" height="1" fill="#0064ff"/>
<rect x="1139" y="413" width="2" height="1" fill="#0064ff"/>
<rect x="1144" y="413" width="2" height="1" fill="#0064ff"/>
<rect x="1149" y="413" width="2" height="1" fill="#0064ff"/>
<rect x="1154" y="413" width="2" height="1" fill="#0064ff"/>
<rect x="1159" y="413" width="2" height="1" fill="#0064ff"/>
<rect x="1164" y="413" width="2" height="1" fill="#0064ff"/>
<rect x="1169" y="413" width="2" height="1" fill="#0064ff"/>
<rect x="1174" y="413" width="2" height="1" fill="#0064ff"/>
<rect x="1179" y="413" width="2" height="1" fill="#0064ff"/>
<rect x="1184" y="413" width="2" height="1" fill="#0064ff"/>
<rect x="1189" y="413" width="2" height="1" fill="#0064ff"/>
<rect x="1194" y="413" width="2" height="1" fill="#0064ff"/>
<rect x="1199" y="413" width="2" height="1" fill="#0064ff"/>
<rect x="1204" y="413" width="2" height="1" fill="#0064ff"/>
<rect x="1209" y="413" width="2" height="1" fill="#0064ff"/>
<rect x="1214" y="413" width="2" height="1" fill="#0064ff"/>
<rect x="1219" y="413" width="2" height="1" fill="#0064ff"/>
<rect x="1224" y="413" width="2" height="1" fill="#0064ff"/>
<rect x="1229" y="413" width="2" height="1" fill="#0064ff"/>
<rect x="1234" y="413" width="2" height="1" fill="#0064ff"/>
<rect x="1239" y="413" width="2" height="1" fill="#0064ff"/>
<rect x="1244" y="413" width="2" height="1" fill="#0064ff"/>
<rect x="1249" y="413" width="2" height="1" fill="#0064ff"/>
<rect x="1254" y="413" width="2" height="1" fill="#0064ff"/>
<rect x="1259" y="413" width="2" height="1" fill="#0064ff"/>
<rect x="1264" y="413" width="2" height="1" fill="#0064ff"/>
<rect x="1269" y="413" width="2" height="1" fill="#0064ff"/>
<rect x="1274" y="413" width="2" height="1" fill="#0064ff"/>
<rect x="1279" y="413" width="2" height="1" fill="#0064ff"/>
<rect x="1284" y="413" width="2" height="1" fill="#0064ff"/>
<rect x="1289" y="413" width="2" height="1" fill="#0064ff"/>
<rect x="1294" y="413" width="2" height="1" fill="#0064ff"/>
<rect x="1299" y="413" width="2" height="1" fill="#0064ff"/>
<rect x="1304" y="413" width="2" height="1" fill="#0064ff"/>
<rect x="1309" y="413" width="2" height="1" fill="#0064ff"/>
<rect x="1314" y="413" width="2" height="1" fill="#0064ff"/>
<rect x="1319" y="413" width="2" height="1" fill="#0064ff"/>
<rect x="1324" y="413" width="2" height="1" fill="#0064ff"/>
<rect x="1329" y="413" width="2" height="1" fill="#0064ff"/>
<rect x="1334" y="413" width="2" height="1" fill="#0064ff"/>
<rect x="1339" y="413" width="2" height="1" fill="#0064ff"/>
<rect x="1344" y="413" width="2" height="1" fill="#0064ff"/>
<rect x="1349" y="413" width="2" height="1" fill="#0064ff"/>
<rect x="1354" y="413" width="2" height="1" fill="#0064ff"/>
<rect x="1359" y="413" width="2" height="1" fill="#0064ff"/>
<rect x="1364" y="413" width="2" height="1" fill="#0064ff"/>
<rect x="1369" y="413" width="2" height="1" fill="#0064ff"/>
<rect x="1374" y="413" width="2" height="1" fill="#0064ff"/>
<rect x="1379" y="413" width="2" height="1" fill="#0064ff"/>
<rect x="1384" y="413" width="2" height="1" fill="#0064ff"/>
<rect x="1389" y="413" width="2" height="1" fill="#0064ff"/>
<rect x="1394" y="413" width="2" height="1" fill="#0064ff"/>
<rect x="1399" y="413" width="2" height="1" fill="#0064ff"/>
<rect x="1404" y="413" width="2" height="1" fill="#0064ff"/>
<rect x="1409" y="413" width="2" height="1" fill="#0064ff"/>
<rect x="1414" y="413" width="2" height="1" fill="#0064ff"/>
<rect x="1419" y="413" width="2" height="1" fill="#0064ff"/>
<rect x="1424" y="413" width="2" height="1" fill="#0064ff"/>
<rect x="1429" y="413" width="2" height="1" fill="#0064ff"/>
<rect x="1434" y="413" width="2" height="1" fill="#0064ff"/>
<rect x="1439" y="413" width="2" height="1" fill="#0064ff"/>
<rect x="1444" y="413" width="2" height="1" fill="#0064ff"/>
<rect x="1449" y="413" width="2" height="1" fill="#0064ff"/>
<rect x="1454" y="413" width="2" height="1" fill="#0064ff"/>
<rect x="1459" y="413" width="2" height="1" fill="#0064ff"/>
<rect x="1464" y="413" width="2" height="1" fill="#0064ff"/>
<rect x="1469" y="413" width="2" height="1" fill="#0064ff"/>
<rect x="1474" y="413" width="2" height="1" fill="#0064ff"/>
<rect x="1479" y="413" width="2" height="1" fill="#0064ff"/>
<rect x="1484" y="413" width="2" height="1" fill="#0064ff"/>
<rect x="1489" y="413" width="2" height="1" fill="#0064ff"/>
<rect x="1494" y="413" width="2" height="1" fill="#0064ff"/>
<rect x="1499" y="413" width="2" height="1" fill="#0064ff"/>
<rect x="1504" y="413" width="2" height="1" fill="#0064ff"/>
<rect x="1509" y="413" width="2" height="1" fill="#0064ff"/>
<rect x="1514" y="413" width="2" height="1" fill="#0064ff"/>
<rect x="1519" y="413" width="2" height="1" fill="#0064ff"/>
<rect x="1524" y="413" width="2" height="1" fill="#0064ff"/>
<rect x="1529" y="413" width="2" height="1" fill="#0064ff"/>
<rect x="1534" y="413" width="2" height="1" fill="#0064ff"/>
<rect x="1539" y="413" width="2" height="1" fill="#0064ff"/>
<rect x="1544" y="413" width="2" height="1" fill="#0064ff"/>
<rect x="736" y="406" width="77" height="14" fill="#00c000"/>
<rect x="736" y="436" width="32" height="14" fill="#00c000"/>
<rect x="736" y="439" width="32" height="8" fill="#0064ff"/>
<rect x="814" y="472" width="2" height="1" fill="#0064ff"/>
<rect x="819" y="472" width="2" height="1" fill="#0064ff"/>
<rect x="824" y="472" width="2" height="1" fill="#0064ff"/>
<rect x="829" y="472" width="2" height="1" fill="#0064ff"/>
<rect x="834" y="472" width="2" height="1" fill="#0064ff"/>
<rect x="839" y="472" width="2" height="1" fill="#0064ff"/>
<rect x="844" y="472" width="2" height="1" fill="#0064ff"/>
<rect x="849" y="472" width="2" height="1" fill="#0064ff"/>
<rect x="854" y="472" width="2" height="1" fill="#0064ff"/>
<rect x="859" y="472" width="2" height="1" fill="#0064ff"/>
<rect x="864" y="472" width="2" height="1" fill="#0064ff"/>
<rect x="869" y="472" width="2" height="1" fill="#0064ff"/>
<rect x="874" y="472" width="2" height="1" fill="#0064ff"/>
<rect x="879" y="472" width="2" height="1" fill="#0064ff"/>
<rect x="884" y="472" width="2" height="1" fill="#0064ff"/>
<rect x="889" y="472" width="2" height="1" fill="#0064ff"/>
<rect x="894" y="472" width="2" height="1" fill="#0064ff"/>
<rect x="899" y="472" width="2" height="1" fill="#0064ff"/>
<rect x="904" y="472" width="2" height="1" fill="#0064ff"/>
<rect x="909" y="472" width="2" height="1" fill="#0064ff"/>
<rect x="914" y="472" width="2" height="1" fill="#0064ff"/>
<rect x="919" y="472" width="2" height="1" fill="#0064ff"/>
<rect x="924" y="472" width="2" height="1" fill="#0064ff"/>
<rect x="929" y="472" width="2" height="1" fill="#0064ff"/>
<rect x="934" y="472" width="2" height="1" fill="#0064ff"/>
<rect x="939" y="472" width="2" height="1" fill="#0064ff"/>
<rect x="944" y="472" width="2" height="1" fill="#0064ff"/>
<rect x="949" y="472" width="2" height="1" fill="#0064ff"/>
<rect x="954" y="472" width="2" height="1" fill="#0064ff"/>
<rect x="959" y="472" width="2" height="1" fill="#0064ff"/>
<rect x="964" y="472" width="2" height="1" fill="#0064ff"/>
<rect x="969" y="472" width="2" height="1" fill="#0064ff"/>
<rect x="974" y="472" width="2" height="1" fill="#0064ff"/>
<rect x="979" y="472" width="2" height="1" fill="#0064ff"/>
<rect x="984" y="472" width="2" height="1" fill="#0064ff"/>
<rect x="989" y="472" width="2" height="1" fill="#0064ff"/>
<rect x="994" y="472" width="2" height="1" fill="#0064ff"/>
<rect x="999" y="472" width="2" height="1" fill="#0064ff"/>
<rect x="1004" y="472" width="2" height="1" fill="#0064ff"/>
<rect x="1009" y="472" width="2" height="1" fill="#0064ff"/>
<rect x="1014" y="472" width="2" height="1" fill="#0064ff"/>
<rect x="1019" y="472" width="2" height="1" fill="#0064ff"/>
<rect x="1024" y="472" width="2" height="1" fill="#0064ff"/>
<rect x="1029" y="472" width="2" height="1" fill="#0064ff"/>
<rect x="1034" y="472" width="2" height="1" fill="#0064ff"/>
<rect x="1039" y="472" width="2" height="1" fill="#0064ff"/>
<rect x="1044" y="472" width="2" height="1" fill="#0064ff"/>
<rect x="1049" y="472" width="2" height="1" fill="#0064ff"/>
<rect x="1054" y="472" width="2" height="1" fill="#0064ff"/>
<rect x="1059" y="472" width="2" height="1" fill="#0064ff"/>
<rect x="1064" y="472" width="2" height="1" fill="#0064ff"/>
<rect x="1069" y="472" width="2" height="1" fill="#0064ff"/>
<rect x="1074" y="472" width="2" height="1" fill="#0064ff"/>
<rect x="1079" y="472" width="2" height="1" fill="#0064ff"/>
<rect x="1084" y="472" width="2" height="1" fill="#0064ff"/>
<rect x="1089" y="472" width="2" height="1" fill="#0064ff"/>
<rect x="1094" y="472" width="2" height="1" fill="#0064ff"/>
<rect x="1099" y="472" width="2" height="1" fill="#0064ff"/>
<rect x="1104" y="472" width="2" height="1" fill="#0064ff"/>
<rect x="1109" y="472" width="2" height="1" fill="#0064ff"/>
<rect x="1114" y="472" width="2" height="1" fill="#0064ff"/>
<rect x="1119" y="472" width="2" height="1" fill="#0064ff"/>
<rect x="1124" y="472" width="2" height="1" fill="#0064ff"/>
<rect x="1129" y="472" width="2" height="1" fill="#0064ff"/>
<rect x="1134" y="472" width="2" height="1" fill="#0064ff"/>
<rect x="1139" y="472" width="2" height="1" fill="#0064ff"/>
<rect x="1144" y="472" width="2" height="1" fill="#0064ff"/>
<rect x="1149" y="472" width="2" height="1" fill="#0064ff"/>
<rect x="1154" y="472" width="2" height="1" fill="#0064ff"/>
<rect x="1159" y="472" width="2" height="1" fill="#0064ff"/>
<rect x="1164" y="472" width="2" height="1" fill="#0064ff"/>
<rect x="1169" y="472" width="2" height="1" fill="#0064ff"/>
<rect x="1174" y="472" width="2" height="1" fill="#0064ff"/>
<rect x="1179" y="472" width="2" height="1" fill="#0064ff"/>
<rect x="1184" y="472" width="2" height="1" fill="#0064ff"/>
<rect x="1189" y="472" width="2" height="1" fill="#0064ff"/>
<rect x="1194" y="472" width="2" height="1" fill="#0064ff"/>
<rect x="1199" y="472" width="2" height="1" fill="#0064ff"/>
<rect x="1204" y="472" width="2" height="1" fill="#0064ff"/>
<rect x="1209" y="472" width="2" height="1" fill="#0064ff"/>
<rect x="1214" y="472" width="2" height="1" fill="#0064ff"/>
<rect x="1219" y="472" width="2" height="1" fill="#0064ff"/>
<rect x="1224" y="472" width="2" height="1" fill="#0064ff"/>
<rect x="1229" y="472" width="2" height="1" fill="#0064ff"/>
<rect x="1234" y="472" width="2" height="1" fill="#0064ff"/>
<rect x="1239" y="472" width="2" height="1" fill="#0064ff"/>
<rect x="1244" y="472" width="2" height="1" fill="#0064ff"/>
<rect x="1249" y="472" width="2" height="1" fill="#0064ff"/>
<rect x="1254" y="472" width="2" height="1" fill="#0064ff"/>
<rect x="1259" y="472" width="2" height="1" fill="#0064ff"/>
<rect x="1264" y="472" width="2" height="1" fill="#0064ff"/>
<rect x="1269" y="472" width="2" height="1" fill="#0064ff"/>
<rect x="1274" y="472" width="2" height="1" fill="#0064ff"/>
<rect x="1279" y="472" width="2" height="1" fill="#0064ff"/>
<rect x="1284" y="472" width="2" height="1" fill="#0064ff"/>
<rect x="1289" y="472" width="2" height="1" fill="#0064ff"/>
<rect x="1294" y="472" width="2" height="1" fill="#0064ff"/>
<rect x="1299" y="472" width="2" height="1" fill="#0064ff"/>
<rect x="1304" y="472" width="2" height="1" fill="#0064ff"/>
<rect x="1309" y="472" width="2" height="1" fill="#0064ff"/>
<rect x="1314" y="472" width="2" height="1" fill="#0064ff"/>
<rect x="1319" y="472" width="2" height="1" fill="#0064ff"/>
<rect x="1324" y="472" width="2" height="1" fill="#0064ff"/>
<rect x="1329" y="472" width="2" height="1" fill="#0064ff"/>
<rect x="1334" y="472" width="2" height="1" fill="#0064ff"/>
<rect x="1339" y="472" width="2" height="1" fill="#0064ff"/>
<rect x="1344" y="472" width="2" height="1" fill="#0064ff"/>
<rect x="1349" y="472" width="2" height="1" fill="#0064ff"/>
<rect x="1354" y="472" width="2" height="1" fill="#0064ff"/>
<rect x="1359" y="472" width="2" height="1" fill="#0064ff"/>
<rect x="1364" y="472" width="2" height="1" fill="#0064ff"/>
<rect x="1369" y="472" width="2" height="1" fill="#0064ff"/>
<rect x="1374" y="472" width="2" height="1" fill="#0064ff"/>
<rect x="1379" y="472" width="2" height="1" fill="#0064ff"/>
<rect x="1384" y="472" width="2" height="1" fill="#0064ff"/>
<rect x="1389" y="472" width="2" height="1" fill="#0064ff"/>
<rect x="1394" y="472" width="2" height="1" fill="#0064ff"/>
<rect x="1399" y="472" width="2" height="1" fill="#0064ff"/>
<rect x="1404" y="472" width="2" height="1" fill="#0064ff"/>
<rect x="1409" y="472" width="2" height="1" fill="#0064ff"/>
<rect x="1414" y="472" width="2" height="1" fill="#0064ff"/>
<rect x="1419" y="472" width="2" height="1" fill="#0064ff"/>
<rect x="1424" y="472" width="2" height="1" fill="#0064ff"/>
<rect x="1429" y="472" width="2" height="1" fill="#0064ff"/>
<rect x="1434" y="472" width="2" height="1" fill="#0064ff"/>
<rect x="1439" y="472" width="2" height="1" fill="#0064ff"/>
<rect x="1444" y="472" width="2" height="1" fill="#0064ff"/>
<rect x="1449" y="472" width="2" height="1" fill="#0064ff"/>
<rect x="1454" y="472" width="2" height="1" fill="#0064ff"/>
<rect x="1459" y="472" width="2" height="1" fill="#0064ff"/>
<rect x="1464" y="472" width="2" height="1" fill="#0064ff"/>
<rect x="1469" y="472" width="2" height="1" fill="#0064ff"/>
<rect x="1474" y="472" width="2" height="1" fill="#0064ff"/>
<rect x="1479" y="472" width="2" height="1" fill="#0064ff"/>
<rect x="1484" y="472" width="2" height="1" fill="#0064ff"/>
<rect x="1489" y="472" width="2" height="1" fill="#0064ff"/>
<rect x="1494" y="472" width="2" height="1" fill="#0064ff"/>
<rect x="1499" y="472" width="2" height="1" fill="#0064ff"/>
<rect x="1504" y="472" width="2" height="1" fill="#0064ff"/>
<rect x="1509" y="472" width="2" height="1" fill="#0064ff"/>
<rect x="1514" y="472" width="2" height="1" fill="#0064ff"/>
<rect x="1519" y="472" width="2" height="1" fill="#0064ff"/>
<rect x="1524" y="472" width="2" height="1" fill="#0064ff"/>
<rect x="1529" y="472" width="2" height="1" fill="#0064ff"/>
<rect x="1534" y="472" width="2" height="1" fill="#0064ff"/>
<rect x="1539" y="472" width="2" height="1" fill="#0064ff"/>
<rect x="1544" y="472" width="2" height="1" fill="#0064ff"/>
<rect x="767" y="466" width="46" height="13" fill="#00c000"/>
<rect x="1017" y="507" width="2" height="1" fill="#0064ff"/>
<rect x="1022" y="507" width="2" height="1" fill="#0064ff"/>
<rect x="1027" y="507" width="2" height="1" fill="#0064ff"/>
<rect x="1032" y="507" width="2" height="1" fill="#0064ff"/>
<rect x="1037" y="507" width="2" height="1" fill="#0064ff"/>
<rect x="1042" y="507" width="2" height="1" fill="#0064ff"/>
<rect x="1047" y="507" width="2" height="1" fill="#0064ff"/>
<rect x="1052" y="507" width="2" height="1" fill="#0064ff"/>
<rect x="1057" y="507" width="2" height="1" fill="#0064ff"/>
<rect x="1062" y="507" width="2" height="1" fill="#0064ff"/>
<rect x="1067" y="507" width="2" height="1" fill="#0064ff"/>
<rect x="1072" y="507" width="2" height="1" fill="#0064ff"/>
<rect x="1077" y="507" width="2" height="1" fill="#0064ff"/>
<rect x="1082" y="507" width="2" height="1" fill="#0064ff"/>
<rect x="1087" y="507" width="2" height="1" fill="#0064ff"/>
<rect x="1092" y="507" width="2" height="1" fill="#0064ff"/>
<rect x="1097" y="507" width="2" height="1" fill="#0064ff"/>
<rect x="1102" y="507" width="2" height="1" fill="#0064ff"/>
<rect x="1107" y="507" width="2" height="1" fill="#0064ff"/>
<rect x="1112" y="507" width="2" height="1" fill="#0064ff"/>
<rect x="1117" y="507" width="2" height="1" fill="#0064ff"/>
<rect x="1122" y="507" width="2" height="1" fill="#0064ff"/>
<rect x="1127" y="507" width="2" height="1" fill="#0064ff"/>
<rect x="1132" y="507" width="2" height="1" fill="#0064ff"/>
<rect x="1137" y="507" width="2" height="1" fill="#0064ff"/>
<rect x="1142" y="507" width="2" height="1" fill="#0064ff"/>
<rect x="1147" y="507" width="2" height="1" fill="#0064ff"/>
<rect x="1152" y="507" width="2" height="1" fill="#0064ff"/>
<rect x="1157" y="507" width="2" height="1" fill="#0064ff"/>
<rect x="1162" y="507" width="2" height="1" fill="#0064ff"/>
<rect x="1167" y="507" width="2" height="1" fill="#0064ff"/>
<rect x="1172" y="507" width="2" height="1" fill="#0064ff"/>
<rect x="1177" y="507" width="2" height="1" fill="#0064ff"/>
<rect x="1182" y="507" width="2" height="1" fill="#0064ff"/>
<rect x="1187" y="507" width="2" height="1" fill="#0064ff"/>
<rect x="1192" y="507" width="2" height="1" fill="#0064ff"/>
<rect x="1197" y="507" width="2" height="1" fill="#0064ff"/>
<rect x="1202" y="507" width="2" height="1" fill="#0064ff"/>
<rect x="1207" y="507" width="2" height="1" fill="#0064ff"/>
<rect x="1212" y="507" width="2" height="1" fill="#0064ff"/>
<rect x="1217" y="507" width="2" height="1" fill="#0064ff"/>
<rect x="1222" y="507" width="2" height="1" fill="#0064ff"/>
<rect x="1227" y="507" width="2" height="1" fill="#0064ff"/>
<rect x="1232" y="507" width="2" height="1" fill="#0064ff"/>
<rect x="1237" y="507" width="2" height="1" fill="#0064ff"/>
<rect x="1242" y="507" width="2" height="1" fill="#0064ff"/>
<rect x="1247" y="507" width="2" height="1" fill="#0064ff"/>
<rect x="1252" y="507" width="2" height="1" fill="#0064ff"/>
<rect x="1257" y="507" width="2" height="1" fill="#0064ff"/>
<rect x="1262" y="507" width="2" height="1" fill="#0064ff"/>
<rect x="1267" y="507" width="2" height="1" fill="#0064ff"/>
<rect x="1272" y="507" width="2" height="1" fill="#0064ff"/>
<rect x="1277" y="507" width="2" height="1" fill="#0064ff"/>
<rect x="1282" y="507" width="2" height="1" fill="#0064ff"/>
<rect x="1287" y="507" width="2" height="1" fill="#0064ff"/>
<rect x="1292" y="507" width="2" height="1" fill="#0064ff"/>
<rect x="1297" y="507" width="2" height="1" fill="#0064ff"/>
<rect x="1302" y="507" width="2" height="1" fill="#0064ff"/>
<rect x="1307" y="507" width="2" height="1" fill="#0064ff"/>
<rect x="1312" y="507" width="2" height="1" fill="#0064ff"/>
<rect x="1317" y="507" width="2" height="1" fill="#0064ff"/>
<rect x="1322" y="507" width="2" height="1" fill="#0064ff"/>
<rect x="1327" y="507" width="2" height="1" fill="#0064ff"/>
<rect x="1332" y="507" width="2" height="1" fill="#0064ff"/>
<rect x="1337" y="507" width="2" height="1" fill="#0064ff"/>
<rect x="1342" y="507" width="2" height="1" fill="#0064ff"/>
<rect x="1347" y="507" width="2" height="1" fill="#0064ff"/>
<rect x="1352" y="507" width="2" height="1" fill="#0064ff"/>
<rect x="1357" y="507" width="2" height="1" fill="#0064ff"/>
<rect x="1362" y="507" width="2" height="1" fill="#0064ff"/>
<rect x="1367" y="507" width="2" height="1" fill="#0064ff"/>
<rect x="1372" y="507" width="2" height="1" fill="#0064ff"/>
<rect x="1377" y="507" width="2" height="1" fill="#0064ff"/>
<rect x="1382" y="507" width="2" height="1" fill="#0064ff"/>
<rect x="1387" y="507" width="2" height="1" fill="#0064ff"/>
<rect x="1392" y="507" width="2" height="1" fill="#0064ff"/>
<rect x="1397" y="507" width="2" height="1" fill="#0064ff"/>
<rect x="1402" y="507" width="2" height="1" fill="#0064ff"/>
<rect x="1407" y="507" width="2" height="1" fill="#0064ff"/>
<rect x="1412" y="507" width="2" height="1" fill="#0064ff"/>
<rect x="1417" y="507" width="2" height="1" fill="#0064ff"/>
<rect x="1422" y="507" width="2" height="1" fill="#0064ff"/>
<rect x="1427" y="507" width="2" height="1" fill="#0064ff"/>
<rect x="1432" y="507" width="2" height="1" fill="#0064ff"/>
<rect x="1437" y="507" width="2" height="1" fill="#0064ff"/>
<rect x="1442" y="507" width="2" height="1" fill="#0064ff"/>
<rect x="1447" y="507" width="2" height="1" fill="#0064ff"/>
<rect x="1452" y="507" width="2" height="1" fill="#0064ff"/>
<rect x="1457" y="507" width="2" height="1" fill="#0064ff"/>
<rect x="1462" y="507" width="2" height="1" fill="#0064ff"/>
<rect x="1467" y="507" width="2" height="1" fill="#0064ff"/>
<rect x="1472" y="507" width="2" height="1" fill="#0064ff"/>
<rect x="1477" y="507" width="2" height="1" fill="#0064ff"/>
<rect x="1482" y="507" width="2" height="1" fill="#0064ff"/>
<rect x="1487" y="507" width="2" height="1" fill="#0064ff"/>
<rect x="1492" y="507" width="2" height="1" fill="#0064ff"/>
<rect x="1497" y="507" width="2" height="1" fill="#0064ff"/>
<rect x="1502" y="507" width="2" height="1" fill="#0064ff"/>
<rect x="1507" y="507" width="2" height="1" fill="#0064ff"/>
<rect x="1512" y="507" width="2" height="1" fill="#0064ff"/>
<rect x="1517" y="507" width="2" height="1" fill="#0064ff"/>
<rect x="1522" y="507" width="2" height="1" fill="#0064ff"/>
<rect x="1527" y="507" width="2" height="1" fill="#0064ff"/>
<rect x="1532" y="507" width="2" height="1" fill="#0064ff"/>
<rect x="1537" y="507" width="2" height="1" fill="#0064ff"/>
<rect x="1542" y="507" width="2" height="1" fill="#0064ff"/>
<rect x="736" y="500" width="280" height="14" fill="#00c000"/>
<rect x="736" y="530" width="39" height="14" fill="#00c000"/>
<rect x="736" y="533" width="39" height="8" fill="#0064ff"/>
<rect x="795" y="566" width="2" height="1" fill="#0064ff"/>
<rect x="800" y="566" width="2" height="1" fill="#0064ff"/>
<rect x="805" y="566" width="2" height="1" fill="#0064ff"/>
<rect x="810" y="566" width="2" height="1" fill="#0064ff"/>
<rect x="815" y="566" width="2" height="1" fill="#0064ff"/>
<rect x="820" y="566" width="2" height="1" fill="#0064ff"/>
<rect x="774" y="560" width="20" height="13" fill="#00c000"/>
<rect x="825" y="563" width="32" height="7" fill="#0064ff"/>
<rect x="793" y="589" width="134" height="14" fill="#00c000"/>
<rect x="856" y="592" width="135" height="8" fill="#0064ff"/>
<rect x="973" y="625" width="2" height="1" fill="#0064ff"/>
<rect x="978" y="625" width="2" height="1" fill="#0064ff"/>
<rect x="983" y="625" width="2" height="1" fill="#0064ff"/>
<rect x="988" y="625" width="2" height="1" fill="#0064ff"/>
<rect x="926" y="619" width="46" height="13" fill="#00c000"/>
<rect x="990" y="622" width="45" height="7" fill="#0064ff"/>
<rect x="1017" y="655" width="2" height="1" fill="#0064ff"/>
<rect x="1022" y="655" width="2" height="1" fill="#0064ff"/>
<rect x="1027" y="655" width="2" height="1" fill="#0064ff"/>
<rect x="1032" y="655" width="2" height="1" fill="#0064ff"/>
<rect x="971" y="648" width="45" height="14" fill="#00c000"/>
<rect x="1034" y="651" width="45" height="8" fill="#0064ff"/>
<rect x="1283" y="735" width="2" height="1" fill="#0064ff"/>
<rect x="1288" y="735" width="2" height="1" fill="#0064ff"/>
<rect x="1293" y="735" width="2" height="1" fill="#0064ff"/>
<rect x="1298" y="735" width="2" height="1" fill="#0064ff"/>
<rect x="1303" y="735" width="2" height="1" fill="#0064ff"/>
<rect x="1308" y="735" width="2" height="1" fill="#0064ff"/>
<rect x="1313" y="735" width="2" height="1" fill="#0064ff"/>
<rect x="1318" y="735" width="2" height="1" fill="#0064ff"/>
<rect x="1323" y="735" width="2" height="1" fill="#0064ff"/>
<rect x="1328" y="735" width="2" height="1" fill="#0064ff"/>
<rect x="1333" y="735" width="2" height="1" fill="#0064ff"/>
<rect x="1338" y="735" width="2" height="1" fill="#0064ff"/>
<rect x="1343" y="735" width="2" height="1" fill="#0064ff"/>
<rect x="1348" y="735" width="2" height="1" fill="#0064ff"/>
<rect x="1353" y="735" width="2" height="1" fill="#0064ff"/>
<rect x="1358" y="735" width="2" height="1" fill="#0064ff"/>
<rect x="1363" y="735" width="2" height="1" fill="#0064ff"/>
<rect x="1368" y="735" width="2" height="1" fill="#0064ff"/>
<rect x="1373" y="735" width="2" height="1" fill="#0064ff"/>
<rect x="1378" y="735" width="2" height="1" fill="#0064ff"/>
<rect x="1383" y="735" width="2" height="1" fill="#0064ff"/>
<rect x="1388" y="735" width="2" height="1" fill="#0064ff"/>
<rect x="1393" y="735" width="2" height="1" fill="#0064ff"/>
<rect x="1398" y="735" width="2" height="1" fill="#0064ff"/>
<rect x="1403" y="735" width="2" height="1" fill="#0064ff"/>
<rect x="1408" y="735" width="2" height="1" fill="#0064ff"/>
<rect x="1413" y="735" width="2" height="1" fill="#0064ff"/>
<rect x="1418" y="735" width="2" height="1" fill="#0064ff"/>
<rect x="1423" y="735" width="2" height="1" fill="#0064ff"/>
<rect x="1428" y="735" width="2" height="1" fill="#0064ff"/>
<rect x="1433" y="735" width="2" height="1" fill="#0064ff"/>
<rect x="1438" y="735" width="2" height="1" fill="#0064ff"/>
<rect x="1443" y="735" width="2" height="1" fill="#0064ff"/>
<rect x="1448" y="735" width="2" height="1" fill="#0064ff"/>
<rect x="1453" y="735" width="2" height="1" fill="#0064ff"/>
<rect x="1458" y="735" width="2" height="1" fill="#0064ff"/>
<rect x="1463" y="735" width="2" height="1" fill="#0064ff"/>
<rect x="1468" y="735" width="2" height="1" fill="#0064ff"/>
<rect x="1473" y="735" width="2" height="1" fill="#0064ff"/>
<rect x="1478" y="735" width="2" height="1" fill="#0064ff"/>
<rect x="1483" y="735" width="2" height="1" fill="#0064ff"/>
<rect x="1488" y="735" width="2" height="1" fill="#0064ff"/>
<rect x="1493" y="735" width="2" height="1" fill="#0064ff"/>
<rect x="1498" y="735" width="2" height="1" fill="#0064ff"/>
<rect x="1503" y="735" width="2" height="1" fill="#0064ff"/>
<rect x="1508" y="735" width="2" height="1" fill="#0064ff"/>
<rect x="1513" y="735" width="2" height="1" fill="#0064ff"/>
<rect x="1518" y="735" width="2" height="1" fill="#0064ff"/>
<rect x="1523" y="735" width="2" height="1" fill="#0064ff"/>
<rect x="1528" y="735" width="2" height="1" fill="#0064ff"/>
<rect x="1533" y="735" width="2" height="1" fill="#0064ff"/>
<rect x="1538" y="735" width="2" height="1" fill="#0064ff"/>
<rect x="1543" y="735" width="2" height="1" fill="#0064ff"/>
<rect x="1015" y="728" width="267" height="14" fill="#00c000"/>
<rect x="1015" y="758" width="179" height="14" fill="#00c000"/>
<rect x="1015" y="761" width="179" height="7" fill="#0064ff"/>
<rect x="1239" y="794" width="2" height="1" fill="#0064ff"/>
<rect x="1244" y="794" width="2" height="1" fill="#0064ff"/>
<rect x="1249" y="794" width="2" height="1" fill="#0064ff"/>
<rect x="1254" y="794" width="2" height="1" fill="#0064ff"/>
<rect x="1259" y="794" width="2" height="1" fill="#0064ff"/>
<rect x="1264" y="794" width="2" height="1" fill="#0064ff"/>
<rect x="1269" y="794" width="2" height="1" fill="#0064ff"/>
<rect x="1274" y="794" width="2" height="1" fill="#0064ff"/>
<rect x="1279" y="794" width="2" height="1" fill="#0064ff"/>
<rect x="1284" y="794" width="2" height="1" fill="#0064ff"/>
<rect x="1289" y="794" width="2" height="1" fill="#0064ff"/>
<rect x="1294" y="794" width="2" height="1" fill="#0064ff"/>
<rect x="1299" y="794" width="2" height="1" fill="#0064ff"/>
<rect x="1304" y="794" width="2" height="1" fill="#0064ff"/>
<rect x="1309" y="794" width="2" height="1" fill="#0064ff"/>
<rect x="1314" y="794" width="2" height="1" fill="#0064ff"/>
<rect x="1319" y="794" width="2" height="1" fill="#0064ff"/>
<rect x="1324" y="794" width="2" height="1" fill="#0064ff"/>
<rect x="1329" y="794" width="2" height="1" fill="#0064ff"/>
<rect x="1334" y="794" width="2" height="1" fill="#0064ff"/>
<rect x="1339" y="794" width="2" height="1" fill="#0064ff"/>
<rect x="1344" y="794" width="2" height="1" fill="#0064ff"/>
<rect x="1349" y="794" width="2" height="1" fill="#0064ff"/>
<rect x="1354" y="794" width="2" height="1" fill="#0064ff"/>
<rect x="1359" y="794" width="2" height="1" fill="#0064ff"/>
<rect x="1364" y="794" width="2" height="1" fill="#0064ff"/>
<rect x="1369" y="794" width="2" height="1" fill="#0064ff"/>
<rect x="1374" y="794" width="2" height="1" fill="#0064ff"/>
<rect x="1379" y="794" width="2" height="1" fill="#0064ff"/>
<rect x="1384" y="794" width="2" height="1" fill="#0064ff"/>
<rect x="1389" y="794" width="2" height="1" fill="#0064ff"/>
<rect x="1394" y="794" width="2" height="1" fill="#0064ff"/>
<rect x="1399" y="794" width="2" height="1" fill="#0064ff"/>
<rect x="1404" y="794" width="2" height="1" fill="#0064ff"/>
<rect x="1409" y="794" width="2" height="1" fill="#0064ff"/>
<rect x="1414" y="794" width="2" height="1" fill="#0064ff"/>
<rect x="1419" y="794" width="2" height="1" fill="#0064ff"/>
<rect x="1424" y="794" width="2" height="1" fill="#0064ff"/>
<rect x="1429" y="794" width="2" height="1" fill="#0064ff"/>
<rect x="1434" y="794" width="2" height="1" fill="#0064ff"/>
<rect x="1439" y="794" width="2" height="1" fill="#0064ff"/>
<rect x="1444" y="794" width="2" height="1" fill="#0064ff"/>
<rect x="1449" y="794" width="2" height="1" fill="#0064ff"/>
<rect x="1454" y="794" width="2" height="1" fill="#0064ff"/>
<rect x="1459" y="794" width="2" height="1" fill="#0064ff"/>
<rect x="1464" y="794" width="2" height="1" fill="#0064ff"/>
<rect x="1469" y="794" width="2" height="1" fill="#0064ff"/>
<rect x="1474" y="794" width="2" height="1" fill="#0064ff"/>
<rect x="1479" y="794" width="2" height="1" fill="#0064ff"/>
<rect x="1484" y="794" width="2" height="1" fill="#0064ff"/>
<rect x="1489" y="794" width="2" height="1" fill="#0064ff"/>
<rect x="1494" y="794" width="2" height="1" fill="#0064ff"/>
<rect x="1499" y="794" width="2" height="1" fill="#0064ff"/>
<rect x="1504" y="794" width="2" height="1" fill="#0064ff"/>
<rect x="1509" y="794" width="2" height="1" fill="#0064ff"/>
<rect x="1514" y="794" width="2" height="1" fill="#0064ff"/>
<rect x="1519" y="794" width="2" height="1" fill="#0064ff"/>
<rect x="1524" y="794" width="2" height="1" fill="#0064ff"/>
<rect x="1529" y="794" width="2" height="1" fill="#0064ff"/>
<rect x="1534" y="794" width="2" height="1" fill="#0064ff"/>
<rect x="1539" y="794" width="2" height="1" fill="#0064ff"/>
<rect x="1544" y="794" width="2" height="1" fill="#0064ff"/>
<rect x="1193" y="788" width="45" height="13" fill="#00c000"/>
<polygon points="691.5,64 705.0,64 698.5,77.5" fill="#9b0000"/>
<text x="705.5" y="75" font-size="11.8" fill="#000080">Project Start (Contract signed)</text>
<polygon points="1008.5,672 1022.0,672 1015.5,685.5" fill="#9b0000"/>
<text x="1022.5" y="683" font-size="11.8" fill="#000080">Design sign-off</text>
<polygon points="1008.5,697 1022.0,697 1015.5,710.5" fill="#9b0000"/>
<text x="1022.5" y="708" font-size="11.8" fill="#000080">Commercial Milestone (1)</text>
</g></svg>
<rect x="5" y="811" width="1560" height="1" fill="#fff"/>
<rect x="5" y="828" width="1560" height="1" fill="#fff"/>
<rect x="5" y="831" width="1560" height="1" fill="#a8a8a8"/>
<path d="M15.2,816.0 L11.5,819.5 L15.2,823.0" fill="none" stroke="#c0c0c0" stroke-width="2.4" shape-rendering="auto"/>
<path d="M626.8,816.0 L630.5,819.5 L626.8,823.0" fill="none" stroke="#c0c0c0" stroke-width="2.4" shape-rendering="auto"/>
<rect x="640" y="812" width="1" height="17" fill="#a0a0a0"/>
<rect x="658" y="812" width="475" height="15" fill="#cdcdcd"/>
<path d="M651.7,816.0 L648.0,819.5 L651.7,823.0" fill="none" stroke="#606060" stroke-width="2.4" shape-rendering="auto"/>
<path d="M1536.8,816.0 L1540.5,819.5 L1536.8,823.0" fill="none" stroke="#606060" stroke-width="2.4" shape-rendering="auto"/>
<rect x="1548" y="69" width="15" height="223" fill="#cdcdcd"/>
<path d="M1552.0,63.5 L1555.5,60.0 L1559.0,63.5" fill="none" stroke="#606060" stroke-width="2" shape-rendering="auto"/>
<path d="M1552.0,801 L1555.5,804.5 L1559.0,801" fill="none" stroke="#606060" stroke-width="2" shape-rendering="auto"/>
<rect x="1547" y="831" width="18" height="1" fill="#a0a0a0"/>
<path d="M1552.0,843 L1555.5,839.5 L1559.0,843" fill="none" stroke="#c0c0c0" stroke-width="2" shape-rendering="auto"/>
<path d="M1552.0,1027 L1555.5,1030.5 L1559.0,1027" fill="none" stroke="#c0c0c0" stroke-width="2" shape-rendering="auto"/>
<rect x="5" y="832" width="632" height="205" fill="#000"/>
<rect x="6" y="833" width="629" height="202" fill="#c0c0c0"/>
<rect x="631" y="1022" width="4" height="1" fill="#000"/>
<rect x="627" y="1009" width="8" height="1" fill="#000"/>
<text x="625" y="1012" font-size="9" fill="#000" text-anchor="end">2</text>
<rect x="631" y="997" width="4" height="1" fill="#000"/>
<rect x="627" y="984" width="8" height="1" fill="#000"/>
<text x="625" y="987" font-size="9" fill="#000" text-anchor="end">4</text>
<rect x="631" y="971" width="4" height="1" fill="#000"/>
<rect x="627" y="958" width="8" height="1" fill="#000"/>
<text x="625" y="961" font-size="9" fill="#000" text-anchor="end">6</text>
<rect x="631" y="946" width="4" height="1" fill="#000"/>
<rect x="627" y="933" width="8" height="1" fill="#000"/>
<text x="625" y="936" font-size="9" fill="#000" text-anchor="end">8</text>
<rect x="631" y="920" width="4" height="1" fill="#000"/>
<rect x="627" y="908" width="8" height="1" fill="#000"/>
<text x="625" y="911" font-size="9" fill="#000" text-anchor="end">10</text>
<rect x="631" y="895" width="4" height="1" fill="#000"/>
<rect x="627" y="882" width="8" height="1" fill="#000"/>
<text x="625" y="885" font-size="9" fill="#000" text-anchor="end">12</text>
<rect x="631" y="870" width="4" height="1" fill="#000"/>
<rect x="627" y="857" width="8" height="1" fill="#000"/>
<text x="625" y="860" font-size="9" fill="#000" text-anchor="end">14</text>
<rect x="631" y="844" width="4" height="1" fill="#000"/>
<rect x="641" y="832" width="906" height="205" fill="#000"/>
<rect x="642" y="833" width="904" height="203" fill="#fff"/>
<svg x="642" y="833" width="904" height="203" overflow="hidden">
<g transform="translate(-642,-833)">
<rect x="615" y="833" width="13" height="203" fill="#e8e8e8"/>
<rect x="660" y="833" width="12" height="203" fill="#e8e8e8"/>
<rect x="704" y="833" width="13" height="203" fill="#e8e8e8"/>
<rect x="748" y="833" width="13" height="203" fill="#e8e8e8"/>
<rect x="793" y="833" width="13" height="203" fill="#e8e8e8"/>
<rect x="837" y="833" width="13" height="203" fill="#e8e8e8"/>
<rect x="882" y="833" width="12" height="203" fill="#e8e8e8"/>
<rect x="926" y="833" width="13" height="203" fill="#e8e8e8"/>
<rect x="971" y="833" width="12" height="203" fill="#e8e8e8"/>
<rect x="1015" y="833" width="13" height="203" fill="#e8e8e8"/>
<rect x="1059" y="833" width="13" height="203" fill="#e8e8e8"/>
<rect x="1104" y="833" width="12" height="203" fill="#e8e8e8"/>
<rect x="1148" y="833" width="13" height="203" fill="#e8e8e8"/>
<rect x="1193" y="833" width="12" height="203" fill="#e8e8e8"/>
<rect x="1237" y="833" width="13" height="203" fill="#e8e8e8"/>
<rect x="1281" y="833" width="13" height="203" fill="#e8e8e8"/>
<rect x="1326" y="833" width="13" height="203" fill="#e8e8e8"/>
<rect x="1370" y="833" width="13" height="203" fill="#e8e8e8"/>
<rect x="1415" y="833" width="12" height="203" fill="#e8e8e8"/>
<rect x="1459" y="833" width="13" height="203" fill="#e8e8e8"/>
<rect x="1504" y="833" width="12" height="203" fill="#e8e8e8"/>
<rect x="1548" y="833" width="13" height="203" fill="#e8e8e8"/>
<rect x="698" y="833" width="1" height="203" fill="#c0c0c0"/>
<rect x="894" y="833" width="1" height="203" fill="#c0c0c0"/>
<rect x="1085" y="833" width="1" height="203" fill="#c0c0c0"/>
<rect x="1281" y="833" width="1" height="203" fill="#c0c0c0"/>
<rect x="1478" y="833" width="1" height="203" fill="#c0c0c0"/>
<rect x="642" y="908" width="904" height="1" fill="#e00000"/>
<rect x="698" y="946" width="6" height="90" fill="#00c000"/>
<rect x="717" y="946" width="6" height="90" fill="#00c000"/>
<rect x="723" y="946" width="6" height="90" fill="#00c000"/>
<rect x="729" y="946" width="7" height="90" fill="#00c000"/>
<rect x="736" y="920" width="6" height="116" fill="#00c000"/>
<rect x="742" y="920" width="6" height="116" fill="#00c000"/>
<rect x="761" y="920" width="6" height="116" fill="#00c000"/>
<rect x="767" y="933" width="7" height="103" fill="#00c000"/>
<rect x="774" y="933" width="6" height="103" fill="#00c000"/>
<rect x="780" y="933" width="7" height="103" fill="#00c000"/>
<rect x="787" y="933" width="6" height="103" fill="#00c000"/>
<rect x="806" y="933" width="6" height="103" fill="#00c000"/>
<rect x="812" y="958" width="6" height="78" fill="#00c000"/>
<rect x="818" y="958" width="7" height="78" fill="#00c000"/>
<rect x="825" y="958" width="6" height="78" fill="#00c000"/>
<rect x="831" y="958" width="6" height="78" fill="#00c000"/>
<rect x="850" y="958" width="6" height="78" fill="#00c000"/>
<rect x="856" y="958" width="7" height="78" fill="#00c000"/>
<rect x="863" y="958" width="6" height="78" fill="#00c000"/>
<rect x="869" y="958" width="6" height="78" fill="#00c000"/>
<rect x="875" y="958" width="7" height="78" fill="#00c000"/>
<rect x="894" y="958" width="7" height="78" fill="#00c000"/>
<rect x="901" y="958" width="6" height="78" fill="#00c000"/>
<rect x="907" y="958" width="6" height="78" fill="#00c000"/>
<rect x="913" y="958" width="7" height="78" fill="#00c000"/>
<rect x="920" y="958" width="6" height="78" fill="#00c000"/>
<rect x="939" y="933" width="6" height="103" fill="#00c000"/>
<rect x="945" y="946" width="6" height="90" fill="#00c000"/>
<rect x="951" y="946" width="7" height="90" fill="#00c000"/>
<rect x="958" y="946" width="6" height="90" fill="#00c000"/>
<rect x="964" y="946" width="7" height="90" fill="#00c000"/>
<rect x="983" y="946" width="7" height="90" fill="#00c000"/>
<rect x="990" y="946" width="6" height="90" fill="#00c000"/>
<rect x="996" y="946" width="6" height="90" fill="#00c000"/>
<rect x="1002" y="946" width="7" height="90" fill="#00c000"/>
<rect x="1009" y="946" width="6" height="90" fill="#00c000"/>
<rect x="1028" y="882" width="6" height="27" fill="#e00000"/>
<rect x="1028" y="909" width="6" height="127" fill="#00c000"/>
<rect x="1034" y="882" width="6" height="27" fill="#e00000"/>
<rect x="1034" y="909" width="6" height="127" fill="#00c000"/>
<rect x="1040" y="882" width="7" height="27" fill="#e00000"/>
<rect x="1040" y="909" width="7" height="127" fill="#00c000"/>
<rect x="1047" y="870" width="6" height="39" fill="#e00000"/>
<rect x="1047" y="909" width="6" height="127" fill="#00c000"/>
<rect x="1053" y="870" width="6" height="39" fill="#e00000"/>
<rect x="1053" y="909" width="6" height="127" fill="#00c000"/>
<rect x="1072" y="870" width="6" height="39" fill="#e00000"/>
<rect x="1072" y="909" width="6" height="127" fill="#00c000"/>
<rect x="1078" y="870" width="7" height="39" fill="#e00000"/>
<rect x="1078" y="909" width="7" height="127" fill="#00c000"/>
<rect x="1085" y="870" width="6" height="39" fill="#e00000"/>
<rect x="1085" y="909" width="6" height="127" fill="#00c000"/>
<rect x="1091" y="870" width="6" height="39" fill="#e00000"/>
<rect x="1091" y="909" width="6" height="127" fill="#00c000"/>
<rect x="1097" y="870" width="7" height="39" fill="#e00000"/>
<rect x="1097" y="909" width="7" height="127" fill="#00c000"/>
<rect x="1116" y="870" width="7" height="39" fill="#e00000"/>
<rect x="1116" y="909" width="7" height="127" fill="#00c000"/>
<rect x="1123" y="870" width="6" height="39" fill="#e00000"/>
<rect x="1123" y="909" width="6" height="127" fill="#00c000"/>
<rect x="1129" y="870" width="7" height="39" fill="#e00000"/>
<rect x="1129" y="909" width="7" height="127" fill="#00c000"/>
<rect x="1136" y="870" width="6" height="39" fill="#e00000"/>
<rect x="1136" y="909" width="6" height="127" fill="#00c000"/>
<rect x="1142" y="870" width="6" height="39" fill="#e00000"/>
<rect x="1142" y="909" width="6" height="127" fill="#00c000"/>
<rect x="1161" y="870" width="6" height="39" fill="#e00000"/>
<rect x="1161" y="909" width="6" height="127" fill="#00c000"/>
<rect x="1167" y="870" width="7" height="39" fill="#e00000"/>
<rect x="1167" y="909" width="7" height="127" fill="#00c000"/>
<rect x="1174" y="870" width="6" height="39" fill="#e00000"/>
<rect x="1174" y="909" width="6" height="127" fill="#00c000"/>
<rect x="1180" y="870" width="6" height="39" fill="#e00000"/>
<rect x="1180" y="909" width="6" height="127" fill="#00c000"/>
<rect x="1186" y="870" width="7" height="39" fill="#e00000"/>
<rect x="1186" y="909" width="7" height="127" fill="#00c000"/>
<rect x="1205" y="870" width="7" height="39" fill="#e00000"/>
<rect x="1205" y="909" width="7" height="127" fill="#00c000"/>
<rect x="1212" y="870" width="6" height="39" fill="#e00000"/>
<rect x="1212" y="909" width="6" height="127" fill="#00c000"/>
<rect x="1218" y="870" width="6" height="39" fill="#e00000"/>
<rect x="1218" y="909" width="6" height="127" fill="#00c000"/>
<rect x="1224" y="870" width="7" height="39" fill="#e00000"/>
<rect x="1224" y="909" width="7" height="127" fill="#00c000"/>
<rect x="1231" y="870" width="6" height="39" fill="#e00000"/>
<rect x="1231" y="909" width="6" height="127" fill="#00c000"/>
<rect x="1250" y="882" width="6" height="27" fill="#e00000"/>
<rect x="1250" y="909" width="6" height="127" fill="#00c000"/>
<rect x="1256" y="882" width="6" height="27" fill="#e00000"/>
<rect x="1256" y="909" width="6" height="127" fill="#00c000"/>
<rect x="1262" y="882" width="7" height="27" fill="#e00000"/>
<rect x="1262" y="909" width="7" height="127" fill="#00c000"/>
<rect x="1269" y="882" width="6" height="27" fill="#e00000"/>
<rect x="1269" y="909" width="6" height="127" fill="#00c000"/>
<rect x="1275" y="882" width="6" height="27" fill="#e00000"/>
<rect x="1275" y="909" width="6" height="127" fill="#00c000"/>
<rect x="1294" y="895" width="6" height="14" fill="#e00000"/>
<rect x="1294" y="909" width="6" height="127" fill="#00c000"/>
<rect x="1300" y="895" width="7" height="14" fill="#e00000"/>
<rect x="1300" y="909" width="7" height="127" fill="#00c000"/>
<rect x="1307" y="870" width="6" height="39" fill="#e00000"/>
<rect x="1307" y="909" width="6" height="127" fill="#00c000"/>
<rect x="1313" y="895" width="7" height="14" fill="#e00000"/>
<rect x="1313" y="909" width="7" height="127" fill="#00c000"/>
<rect x="1320" y="895" width="6" height="14" fill="#e00000"/>
<rect x="1320" y="909" width="6" height="127" fill="#00c000"/>
<rect x="1339" y="870" width="6" height="39" fill="#e00000"/>
<rect x="1339" y="909" width="6" height="127" fill="#00c000"/>
<rect x="1345" y="870" width="6" height="39" fill="#e00000"/>
<rect x="1345" y="909" width="6" height="127" fill="#00c000"/>
<rect x="1351" y="857" width="7" height="52" fill="#e00000"/>
<rect x="1351" y="909" width="7" height="127" fill="#00c000"/>
<rect x="1358" y="857" width="6" height="52" fill="#e00000"/>
<rect x="1358" y="909" width="6" height="127" fill="#00c000"/>
<rect x="1364" y="857" width="6" height="52" fill="#e00000"/>
<rect x="1364" y="909" width="6" height="127" fill="#00c000"/>
<rect x="1383" y="857" width="6" height="52" fill="#e00000"/>
<rect x="1383" y="909" width="6" height="127" fill="#00c000"/>
<rect x="1389" y="857" width="7" height="52" fill="#e00000"/>
<rect x="1389" y="909" width="7" height="127" fill="#00c000"/>
<rect x="1396" y="844" width="6" height="65" fill="#e00000"/>
<rect x="1396" y="909" width="6" height="127" fill="#00c000"/>
<rect x="1402" y="844" width="6" height="65" fill="#e00000"/>
<rect x="1402" y="909" width="6" height="127" fill="#00c000"/>
<rect x="1408" y="844" width="7" height="65" fill="#e00000"/>
<rect x="1408" y="909" width="7" height="127" fill="#00c000"/>
<rect x="1427" y="870" width="7" height="39" fill="#e00000"/>
<rect x="1427" y="909" width="7" height="127" fill="#00c000"/>
<rect x="1434" y="870" width="6" height="39" fill="#e00000"/>
<rect x="1434" y="909" width="6" height="127" fill="#00c000"/>
<rect x="1440" y="870" width="6" height="39" fill="#e00000"/>
<rect x="1440" y="909" width="6" height="127" fill="#00c000"/>
<rect x="1446" y="870" width="7" height="39" fill="#e00000"/>
<rect x="1446" y="909" width="7" height="127" fill="#00c000"/>
<rect x="1453" y="857" width="6" height="52" fill="#e00000"/>
<rect x="1453" y="909" width="6" height="127" fill="#00c000"/>
<rect x="1472" y="920" width="6" height="116" fill="#00c000"/>
<rect x="1478" y="933" width="6" height="103" fill="#00c000"/>
<rect x="1484" y="933" width="7" height="103" fill="#00c000"/>
<rect x="1491" y="933" width="6" height="103" fill="#00c000"/>
<rect x="1497" y="933" width="7" height="103" fill="#00c000"/>
<rect x="1516" y="933" width="7" height="103" fill="#00c000"/>
<rect x="1523" y="933" width="6" height="103" fill="#00c000"/>
<rect x="1529" y="933" width="6" height="103" fill="#00c000"/>
<rect x="1535" y="933" width="7" height="103" fill="#00c000"/>
<rect x="1542" y="933" width="6" height="103" fill="#00c000"/>
<rect x="609" y="1035" width="7" height="1" fill="#0064ff"/>
<rect x="615" y="1035" width="8" height="1" fill="#0064ff"/>
<rect x="622" y="1035" width="7" height="1" fill="#0064ff"/>
<rect x="628" y="1035" width="7" height="1" fill="#0064ff"/>
<rect x="634" y="1035" width="8" height="1" fill="#0064ff"/>
<rect x="641" y="1035" width="7" height="1" fill="#0064ff"/>
<rect x="647" y="1035" width="7" height="1" fill="#0064ff"/>
<rect x="653" y="1035" width="8" height="1" fill="#0064ff"/>
<rect x="660" y="1035" width="7" height="1" fill="#0064ff"/>
<rect x="666" y="1035" width="7" height="1" fill="#0064ff"/>
<rect x="672" y="1035" width="8" height="1" fill="#0064ff"/>
<rect x="679" y="1035" width="7" height="1" fill="#0064ff"/>
<rect x="685" y="1035" width="7" height="1" fill="#0064ff"/>
<rect x="691" y="1035" width="8" height="1" fill="#0064ff"/>
<rect x="698" y="946" width="1" height="90" fill="#0064ff"/>
<rect x="698" y="946" width="7" height="1" fill="#0064ff"/>
<rect x="704" y="946" width="1" height="90" fill="#0064ff"/>
<rect x="704" y="1035" width="7" height="1" fill="#0064ff"/>
<rect x="710" y="1035" width="8" height="1" fill="#0064ff"/>
<rect x="717" y="946" width="1" height="90" fill="#0064ff"/>
<rect x="717" y="946" width="7" height="1" fill="#0064ff"/>
<rect x="723" y="946" width="7" height="1" fill="#0064ff"/>
<rect x="729" y="946" width="8" height="1" fill="#0064ff"/>
<rect x="736" y="920" width="1" height="27" fill="#0064ff"/>
<rect x="736" y="920" width="7" height="1" fill="#0064ff"/>
<rect x="742" y="920" width="7" height="1" fill="#0064ff"/>
<rect x="748" y="920" width="1" height="116" fill="#0064ff"/>
<rect x="748" y="1035" width="8" height="1" fill="#0064ff"/>
<rect x="755" y="1035" width="7" height="1" fill="#0064ff"/>
<rect x="761" y="920" width="1" height="116" fill="#0064ff"/>
<rect x="761" y="920" width="7" height="1" fill="#0064ff"/>
<rect x="767" y="920" width="1" height="14" fill="#0064ff"/>
<rect x="767" y="933" width="8" height="1" fill="#0064ff"/>
<rect x="774" y="933" width="7" height="1" fill="#0064ff"/>
<rect x="780" y="933" width="8" height="1" fill="#0064ff"/>
<rect x="787" y="933" width="7" height="1" fill="#0064ff"/>
<rect x="793" y="933" width="1" height="103" fill="#0064ff"/>
<rect x="793" y="1035" width="7" height="1" fill="#0064ff"/>
<rect x="799" y="1035" width="8" height="1" fill="#0064ff"/>
<rect x="806" y="933" width="1" height="103" fill="#0064ff"/>
<rect x="806" y="933" width="7" height="1" fill="#0064ff"/>
<rect x="812" y="933" width="1" height="26" fill="#0064ff"/>
<rect x="812" y="958" width="7" height="1" fill="#0064ff"/>
<rect x="818" y="958" width="8" height="1" fill="#0064ff"/>
<rect x="825" y="958" width="7" height="1" fill="#0064ff"/>
<rect x="831" y="958" width="7" height="1" fill="#0064ff"/>
<rect x="837" y="958" width="1" height="78" fill="#0064ff"/>
<rect x="837" y="1035" width="8" height="1" fill="#0064ff"/>
<rect x="844" y="1035" width="7" height="1" fill="#0064ff"/>
<rect x="850" y="958" width="1" height="78" fill="#0064ff"/>
<rect x="850" y="958" width="7" height="1" fill="#0064ff"/>
<rect x="856" y="958" width="8" height="1" fill="#0064ff"/>
<rect x="863" y="958" width="7" height="1" fill="#0064ff"/>
<rect x="869" y="958" width="7" height="1" fill="#0064ff"/>
<rect x="875" y="958" width="8" height="1" fill="#0064ff"/>
<rect x="882" y="958" width="1" height="78" fill="#0064ff"/>
<rect x="882" y="1035" width="7" height="1" fill="#0064ff"/>
<rect x="888" y="1035" width="7" height="1" fill="#0064ff"/>
<rect x="894" y="958" width="1" height="78" fill="#0064ff"/>
<rect x="894" y="958" width="8" height="1" fill="#0064ff"/>
<rect x="901" y="958" width="7" height="1" fill="#0064ff"/>
<rect x="907" y="958" width="7" height="1" fill="#0064ff"/>
<rect x="913" y="958" width="8" height="1" fill="#0064ff"/>
<rect x="920" y="958" width="7" height="1" fill="#0064ff"/>
<rect x="926" y="958" width="1" height="78" fill="#0064ff"/>
<rect x="926" y="1035" width="7" height="1" fill="#0064ff"/>
<rect x="932" y="1035" width="8" height="1" fill="#0064ff"/>
<rect x="939" y="933" width="1" height="103" fill="#0064ff"/>
<rect x="939" y="933" width="7" height="1" fill="#0064ff"/>
<rect x="945" y="933" width="1" height="14" fill="#0064ff"/>
<rect x="945" y="946" width="7" height="1" fill="#0064ff"/>
<rect x="951" y="946" width="8" height="1" fill="#0064ff"/>
<rect x="958" y="946" width="7" height="1" fill="#0064ff"/>
<rect x="964" y="946" width="8" height="1" fill="#0064ff"/>
<rect x="971" y="946" width="1" height="90" fill="#0064ff"/>
<rect x="971" y="1035" width="7" height="1" fill="#0064ff"/>
<rect x="977" y="1035" width="7" height="1" fill="#0064ff"/>
<rect x="983" y="946" width="1" height="90" fill="#0064ff"/>
<rect x="983" y="946" width="8" height="1" fill="#0064ff"/>
<rect x="990" y="946" width="7" height="1" fill="#0064ff"/>
<rect x="996" y="946" width="7" height="1" fill="#0064ff"/>
<rect x="1002" y="946" width="8" height="1" fill="#0064ff"/>
<rect x="1009" y="946" width="7" height="1" fill="#0064ff"/>
<rect x="1015" y="946" width="1" height="90" fill="#0064ff"/>
<rect x="1015" y="1035" width="7" height="1" fill="#0064ff"/>
<rect x="1021" y="1035" width="8" height="1" fill="#0064ff"/>
<rect x="1028" y="882" width="1" height="154" fill="#0064ff"/>
<rect x="1028" y="882" width="7" height="1" fill="#0064ff"/>
<rect x="1034" y="882" width="7" height="1" fill="#0064ff"/>
<rect x="1040" y="882" width="8" height="1" fill="#0064ff"/>
<rect x="1047" y="870" width="1" height="13" fill="#0064ff"/>
<rect x="1047" y="870" width="7" height="1" fill="#0064ff"/>
<rect x="1053" y="870" width="7" height="1" fill="#0064ff"/>
<rect x="1059" y="870" width="1" height="166" fill="#0064ff"/>
<rect x="1059" y="1035" width="8" height="1" fill="#0064ff"/>
<rect x="1066" y="1035" width="7" height="1" fill="#0064ff"/>
<rect x="1072" y="870" width="1" height="166" fill="#0064ff"/>
<rect x="1072" y="870" width="7" height="1" fill="#0064ff"/>
<rect x="1078" y="870" width="8" height="1" fill="#0064ff"/>
<rect x="1085" y="870" width="7" height="1" fill="#0064ff"/>
<rect x="1091" y="870" width="7" height="1" fill="#0064ff"/>
<rect x="1097" y="870" width="8" height="1" fill="#0064ff"/>
<rect x="1104" y="870" width="1" height="166" fill="#0064ff"/>
<rect x="1104" y="1035" width="7" height="1" fill="#0064ff"/>
<rect x="1110" y="1035" width="7" height="1" fill="#0064ff"/>
<rect x="1116" y="870" width="1" height="166" fill="#0064ff"/>
<rect x="1116" y="870" width="8" height="1" fill="#0064ff"/>
<rect x="1123" y="870" width="7" height="1" fill="#0064ff"/>
<rect x="1129" y="870" width="8" height="1" fill="#0064ff"/>
<rect x="1136" y="870" width="7" height="1" fill="#0064ff"/>
<rect x="1142" y="870" width="7" height="1" fill="#0064ff"/>
<rect x="1148" y="870" width="1" height="166" fill="#0064ff"/>
<rect x="1148" y="1035" width="8" height="1" fill="#0064ff"/>
<rect x="1155" y="1035" width="7" height="1" fill="#0064ff"/>
<rect x="1161" y="870" width="1" height="166" fill="#0064ff"/>
<rect x="1161" y="870" width="7" height="1" fill="#0064ff"/>
<rect x="1167" y="870" width="8" height="1" fill="#0064ff"/>
<rect x="1174" y="870" width="7" height="1" fill="#0064ff"/>
<rect x="1180" y="870" width="7" height="1" fill="#0064ff"/>
<rect x="1186" y="870" width="8" height="1" fill="#0064ff"/>
<rect x="1193" y="870" width="1" height="166" fill="#0064ff"/>
<rect x="1193" y="1035" width="7" height="1" fill="#0064ff"/>
<rect x="1199" y="1035" width="7" height="1" fill="#0064ff"/>
<rect x="1205" y="870" width="1" height="166" fill="#0064ff"/>
<rect x="1205" y="870" width="8" height="1" fill="#0064ff"/>
<rect x="1212" y="870" width="7" height="1" fill="#0064ff"/>
<rect x="1218" y="870" width="7" height="1" fill="#0064ff"/>
<rect x="1224" y="870" width="8" height="1" fill="#0064ff"/>
<rect x="1231" y="870" width="7" height="1" fill="#0064ff"/>
<rect x="1237" y="870" width="1" height="166" fill="#0064ff"/>
<rect x="1237" y="1035" width="7" height="1" fill="#0064ff"/>
<rect x="1243" y="1035" width="8" height="1" fill="#0064ff"/>
<rect x="1250" y="882" width="1" height="154" fill="#0064ff"/>
<rect x="1250" y="882" width="7" height="1" fill="#0064ff"/>
<rect x="1256" y="882" width="7" height="1" fill="#0064ff"/>
<rect x="1262" y="882" width="8" height="1" fill="#0064ff"/>
<rect x="1269" y="882" width="7" height="1" fill="#0064ff"/>
<rect x="1275" y="882" width="7" height="1" fill="#0064ff"/>
<rect x="1281" y="882" width="1" height="154" fill="#0064ff"/>
<rect x="1281" y="1035" width="8" height="1" fill="#0064ff"/>
<rect x="1288" y="1035" width="7" height="1" fill="#0064ff"/>
<rect x="1294" y="895" width="1" height="141" fill="#0064ff"/>
<rect x="1294" y="895" width="7" height="1" fill="#0064ff"/>
<rect x="1300" y="895" width="8" height="1" fill="#0064ff"/>
<rect x="1307" y="870" width="1" height="26" fill="#0064ff"/>
<rect x="1307" y="870" width="7" height="1" fill="#0064ff"/>
<rect x="1313" y="870" width="1" height="26" fill="#0064ff"/>
<rect x="1313" y="895" width="8" height="1" fill="#0064ff"/>
<rect x="1320" y="895" width="7" height="1" fill="#0064ff"/>
<rect x="1326" y="895" width="1" height="141" fill="#0064ff"/>
<rect x="1326" y="1035" width="7" height="1" fill="#0064ff"/>
<rect x="1332" y="1035" width="8" height="1" fill="#0064ff"/>
<rect x="1339" y="870" width="1" height="166" fill="#0064ff"/>
<rect x="1339" y="870" width="7" height="1" fill="#0064ff"/>
<rect x="1345" y="870" width="7" height="1" fill="#0064ff"/>
<rect x="1351" y="857" width="1" height="14" fill="#0064ff"/>
<rect x="1351" y="857" width="8" height="1" fill="#0064ff"/>
<rect x="1358" y="857" width="7" height="1" fill="#0064ff"/>
<rect x="1364" y="857" width="7" height="1" fill="#0064ff"/>
<rect x="1370" y="857" width="1" height="179" fill="#0064ff"/>
<rect x="1370" y="1035" width="8" height="1" fill="#0064ff"/>
<rect x="1377" y="1035" width="7" height="1" fill="#0064ff"/>
<rect x="1383" y="857" width="1" height="179" fill="#0064ff"/>
<rect x="1383" y="857" width="7" height="1" fill="#0064ff"/>
<rect x="1389" y="857" width="8" height="1" fill="#0064ff"/>
<rect x="1396" y="844" width="1" height="14" fill="#0064ff"/>
<rect x="1396" y="844" width="7" height="1" fill="#0064ff"/>
<rect x="1402" y="844" width="7" height="1" fill="#0064ff"/>
<rect x="1408" y="844" width="8" height="1" fill="#0064ff"/>
<rect x="1415" y="844" width="1" height="192" fill="#0064ff"/>
<rect x="1415" y="1035" width="7" height="1" fill="#0064ff"/>
<rect x="1421" y="1035" width="7" height="1" fill="#0064ff"/>
<rect x="1427" y="870" width="1" height="166" fill="#0064ff"/>
<rect x="1427" y="870" width="8" height="1" fill="#0064ff"/>
<rect x="1434" y="870" width="7" height="1" fill="#0064ff"/>
<rect x="1440" y="870" width="7" height="1" fill="#0064ff"/>
<rect x="1446" y="870" width="8" height="1" fill="#0064ff"/>
<rect x="1453" y="857" width="1" height="14" fill="#0064ff"/>
<rect x="1453" y="857" width="7" height="1" fill="#0064ff"/>
<rect x="1459" y="857" width="1" height="179" fill="#0064ff"/>
<rect x="1459" y="1035" width="7" height="1" fill="#0064ff"/>
<rect x="1465" y="1035" width="8" height="1" fill="#0064ff"/>
<rect x="1472" y="920" width="1" height="116" fill="#0064ff"/>
<rect x="1472" y="920" width="7" height="1" fill="#0064ff"/>
<rect x="1478" y="920" width="1" height="14" fill="#0064ff"/>
<rect x="1478" y="933" width="7" height="1" fill="#0064ff"/>
<rect x="1484" y="933" width="8" height="1" fill="#0064ff"/>
<rect x="1491" y="933" width="7" height="1" fill="#0064ff"/>
<rect x="1497" y="933" width="8" height="1" fill="#0064ff"/>
<rect x="1504" y="933" width="1" height="103" fill="#0064ff"/>
<rect x="1504" y="1035" width="7" height="1" fill="#0064ff"/>
<rect x="1510" y="1035" width="7" height="1" fill="#0064ff"/>
<rect x="1516" y="933" width="1" height="103" fill="#0064ff"/>
<rect x="1516" y="933" width="8" height="1" fill="#0064ff"/>
<rect x="1523" y="933" width="7" height="1" fill="#0064ff"/>
<rect x="1529" y="933" width="7" height="1" fill="#0064ff"/>
<rect x="1535" y="933" width="8" height="1" fill="#0064ff"/>
<rect x="1542" y="933" width="7" height="1" fill="#0064ff"/>
<rect x="1548" y="933" width="1" height="103" fill="#0064ff"/>
<rect x="1548" y="1035" width="7" height="1" fill="#0064ff"/>
<rect x="1554" y="1035" width="8" height="1" fill="#0064ff"/>
<rect x="1561" y="1035" width="7" height="1" fill="#0064ff"/>
<rect x="1567" y="1035" width="7" height="1" fill="#0064ff"/>
</g></svg>
</svg>
</body></html>
